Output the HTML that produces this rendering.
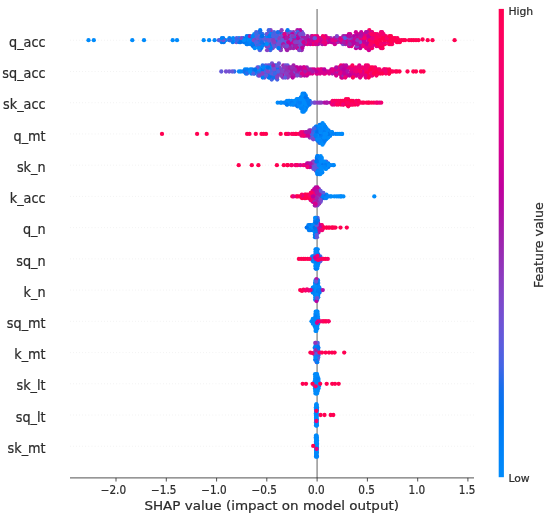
<!DOCTYPE html>
<html lang="en"><head><meta charset="utf-8"><title>SHAP summary plot</title>
<style>html,body{margin:0;padding:0;background:#fff}
svg{display:block}
text{font-family:"DejaVu Sans","Liberation Sans",sans-serif;fill:#2b2b2b;stroke:#2b2b2b;stroke-width:0.22px}
.c0{fill:#008bfb}
.c1{fill:#0088fa}
.c2{fill:#0086fa}
.c3{fill:#0084f9}
.c4{fill:#0082f8}
.c5{fill:#007ff7}
.c6{fill:#007df6}
.c7{fill:#007bf4}
.c8{fill:#0078f3}
.c9{fill:#0076f1}
.c10{fill:#0073f0}
.c11{fill:#0071ee}
.c12{fill:#166eec}
.c13{fill:#2b6bea}
.c14{fill:#3968e7}
.c15{fill:#4465e5}
.c16{fill:#4d62e3}
.c17{fill:#555fe0}
.c18{fill:#5d5cdd}
.c19{fill:#6459da}
.c20{fill:#6a56d7}
.c21{fill:#7053d4}
.c22{fill:#754fd1}
.c23{fill:#7a4bce}
.c24{fill:#7f48ca}
.c25{fill:#8344c7}
.c26{fill:#8840c3}
.c27{fill:#8c3bbf}
.c28{fill:#9037bb}
.c29{fill:#9332b7}
.c30{fill:#972db3}
.c31{fill:#9a27af}
.c32{fill:#9e22ac}
.c33{fill:#a31eaa}
.c34{fill:#a919a8}
.c35{fill:#ae14a6}
.c36{fill:#b20da4}
.c37{fill:#b704a2}
.c38{fill:#bc009f}
.c39{fill:#c0009d}
.c40{fill:#c5009a}
.c41{fill:#c90098}
.c42{fill:#cd0095}
.c43{fill:#d10092}
.c44{fill:#d40090}
.c45{fill:#d8008d}
.c46{fill:#dc008a}
.c47{fill:#df0087}
.c48{fill:#e20084}
.c49{fill:#e50081}
.c50{fill:#e8007d}
.c51{fill:#eb007a}
.c52{fill:#ee0077}
.c53{fill:#f00074}
.c54{fill:#f30070}
.c55{fill:#f5006d}
.c56{fill:#f7006a}
.c57{fill:#f90066}
.c58{fill:#fb0063}
.c59{fill:#fd005f}
.c60{fill:#ff005c}
.c61{fill:#ff0058}
.c62{fill:#ff0055}
.c63{fill:#ff0051}</style></head><body>
<svg width="550" height="518" viewBox="0 0 550 518">
<defs><linearGradient id="cb" x1="0" y1="1" x2="0" y2="0">
<stop offset="0.0000" stop-color="#008bfb"/>
<stop offset="0.0476" stop-color="#0084f9"/>
<stop offset="0.0952" stop-color="#007df6"/>
<stop offset="0.1429" stop-color="#0076f1"/>
<stop offset="0.1905" stop-color="#166eec"/>
<stop offset="0.2381" stop-color="#4465e5"/>
<stop offset="0.2857" stop-color="#5d5cdd"/>
<stop offset="0.3333" stop-color="#7053d4"/>
<stop offset="0.3810" stop-color="#7f48ca"/>
<stop offset="0.4286" stop-color="#8c3bbf"/>
<stop offset="0.4762" stop-color="#972db3"/>
<stop offset="0.5238" stop-color="#a31eaa"/>
<stop offset="0.5714" stop-color="#b20da4"/>
<stop offset="0.6190" stop-color="#c0009d"/>
<stop offset="0.6667" stop-color="#cd0095"/>
<stop offset="0.7143" stop-color="#d8008d"/>
<stop offset="0.7619" stop-color="#e20084"/>
<stop offset="0.8095" stop-color="#eb007a"/>
<stop offset="0.8571" stop-color="#f30070"/>
<stop offset="0.9048" stop-color="#f90066"/>
<stop offset="0.9524" stop-color="#ff005c"/>
<stop offset="1.0000" stop-color="#ff0051"/>
</linearGradient></defs>
<rect width="550" height="518" fill="#fff"/>
<g stroke="#d2d2d2" stroke-width="0.5" stroke-dasharray="0.55 2.55" fill="none">
<line x1="70.0" x2="474.0" y1="40.25" y2="40.25"/>
<line x1="70.0" x2="474.0" y1="71.48" y2="71.48"/>
<line x1="70.0" x2="474.0" y1="102.71" y2="102.71"/>
<line x1="70.0" x2="474.0" y1="133.94" y2="133.94"/>
<line x1="70.0" x2="474.0" y1="165.17" y2="165.17"/>
<line x1="70.0" x2="474.0" y1="196.40" y2="196.40"/>
<line x1="70.0" x2="474.0" y1="227.63" y2="227.63"/>
<line x1="70.0" x2="474.0" y1="258.86" y2="258.86"/>
<line x1="70.0" x2="474.0" y1="290.09" y2="290.09"/>
<line x1="70.0" x2="474.0" y1="321.32" y2="321.32"/>
<line x1="70.0" x2="474.0" y1="352.55" y2="352.55"/>
<line x1="70.0" x2="474.0" y1="383.78" y2="383.78"/>
<line x1="70.0" x2="474.0" y1="415.01" y2="415.01"/>
<line x1="70.0" x2="474.0" y1="446.24" y2="446.24"/>
</g>
<line x1="317.1" x2="317.1" y1="9.0" y2="477.9" stroke="#999" stroke-width="1.55"/>
<g>
<circle class="c53" cx="310.8" cy="40.2" r="2.15"/>
<circle class="c32" cx="345.1" cy="36.2" r="2.15"/>
<circle class="c55" cx="378.3" cy="46.2" r="2.15"/>
<circle class="c41" cx="311.3" cy="38.2" r="2.15"/>
<circle class="c9" cx="251.8" cy="38.2" r="2.15"/>
<circle class="c53" cx="372.0" cy="48.2" r="2.15"/>
<circle class="c10" cx="247.4" cy="44.2" r="2.15"/>
<circle class="c43" cx="305.8" cy="40.2" r="2.15"/>
<circle class="c24" cx="282.0" cy="36.2" r="2.15"/>
<circle class="c7" cx="221.8" cy="42.2" r="2.15"/>
<circle class="c27" cx="266.6" cy="46.2" r="2.15"/>
<circle class="c15" cx="248.4" cy="38.2" r="2.15"/>
<circle class="c10" cx="246.6" cy="40.2" r="2.15"/>
<circle class="c22" cx="254.6" cy="38.2" r="2.15"/>
<circle class="c7" cx="248.7" cy="36.2" r="2.15"/>
<circle class="c51" cx="323.7" cy="38.2" r="2.15"/>
<circle class="c11" cx="263.3" cy="44.2" r="2.15"/>
<circle class="c39" cx="360.2" cy="48.2" r="2.15"/>
<circle class="c54" cx="375.7" cy="44.2" r="2.15"/>
<circle class="c23" cx="280.1" cy="46.2" r="2.15"/>
<circle class="c38" cx="356.0" cy="48.2" r="2.15"/>
<circle class="c19" cx="299.1" cy="44.2" r="2.15"/>
<circle class="c45" cx="325.7" cy="36.2" r="2.15"/>
<circle class="c21" cx="236.4" cy="42.2" r="2.15"/>
<circle class="c7" cx="252.4" cy="42.2" r="2.15"/>
<circle class="c35" cx="280.2" cy="32.2" r="2.15"/>
<circle class="c31" cx="272.9" cy="44.2" r="2.15"/>
<circle class="c56" cx="384.4" cy="42.2" r="2.15"/>
<circle class="c44" cx="366.4" cy="44.2" r="2.15"/>
<circle class="c22" cx="269.9" cy="38.2" r="2.15"/>
<circle class="c55" cx="362.2" cy="40.2" r="2.15"/>
<circle class="c0" cx="232.8" cy="40.2" r="2.15"/>
<circle class="c11" cx="260.9" cy="40.2" r="2.15"/>
<circle class="c43" cx="373.5" cy="44.2" r="2.15"/>
<circle class="c57" cx="385.9" cy="36.2" r="2.15"/>
<circle class="c33" cx="300.9" cy="40.2" r="2.15"/>
<circle class="c32" cx="351.7" cy="42.2" r="2.15"/>
<circle class="c18" cx="281.2" cy="44.2" r="2.15"/>
<circle class="c28" cx="293.5" cy="32.2" r="2.15"/>
<circle class="c34" cx="286.2" cy="48.2" r="2.15"/>
<circle class="c19" cx="261.7" cy="34.2" r="2.15"/>
<circle class="c40" cx="356.7" cy="36.2" r="2.15"/>
<circle class="c54" cx="315.0" cy="36.2" r="2.15"/>
<circle class="c19" cx="277.6" cy="38.2" r="2.15"/>
<circle class="c37" cx="301.1" cy="32.2" r="2.15"/>
<circle class="c9" cx="274.1" cy="38.2" r="2.15"/>
<circle class="c53" cx="381.0" cy="32.2" r="2.15"/>
<circle class="c22" cx="343.1" cy="44.2" r="2.15"/>
<circle class="c26" cx="311.6" cy="36.2" r="2.15"/>
<circle class="c35" cx="296.2" cy="36.2" r="2.15"/>
<circle class="c9" cx="223.7" cy="42.2" r="2.15"/>
<circle class="c24" cx="290.7" cy="38.2" r="2.15"/>
<circle class="c40" cx="328.2" cy="42.2" r="2.15"/>
<circle class="c15" cx="283.2" cy="42.2" r="2.15"/>
<circle class="c40" cx="363.1" cy="36.2" r="2.15"/>
<circle class="c23" cx="308.5" cy="38.2" r="2.15"/>
<circle class="c20" cx="260.3" cy="44.2" r="2.15"/>
<circle class="c6" cx="257.8" cy="34.2" r="2.15"/>
<circle class="c53" cx="335.6" cy="38.2" r="2.15"/>
<circle class="c60" cx="389.2" cy="44.2" r="2.15"/>
<circle class="c29" cx="303.9" cy="38.2" r="2.15"/>
<circle class="c34" cx="352.3" cy="40.2" r="2.15"/>
<circle class="c47" cx="360.6" cy="40.2" r="2.15"/>
<circle class="c11" cx="262.1" cy="42.2" r="2.15"/>
<circle class="c24" cx="272.6" cy="48.2" r="2.15"/>
<circle class="c46" cx="311.5" cy="42.2" r="2.15"/>
<circle class="c43" cx="367.3" cy="48.2" r="2.15"/>
<circle class="c13" cx="266.8" cy="40.2" r="2.15"/>
<circle class="c9" cx="271.9" cy="36.2" r="2.15"/>
<circle class="c1" cx="220.6" cy="40.2" r="2.15"/>
<circle class="c63" cx="380.8" cy="36.2" r="2.15"/>
<circle class="c32" cx="296.1" cy="40.2" r="2.15"/>
<circle class="c18" cx="299.9" cy="48.2" r="2.15"/>
<circle class="c37" cx="353.9" cy="36.2" r="2.15"/>
<circle class="c17" cx="266.7" cy="34.2" r="2.15"/>
<circle class="c29" cx="301.7" cy="38.2" r="2.15"/>
<circle class="c10" cx="270.7" cy="42.2" r="2.15"/>
<circle class="c23" cx="287.7" cy="38.2" r="2.15"/>
<circle class="c43" cx="322.7" cy="40.2" r="2.15"/>
<circle class="c21" cx="259.0" cy="40.2" r="2.15"/>
<circle class="c9" cx="281.9" cy="34.2" r="2.15"/>
<circle class="c63" cx="398.7" cy="40.2" r="2.15"/>
<circle class="c51" cx="351.4" cy="46.2" r="2.15"/>
<circle class="c24" cx="344.0" cy="40.2" r="2.15"/>
<circle class="c31" cx="280.7" cy="48.2" r="2.15"/>
<circle class="c49" cx="365.4" cy="34.2" r="2.15"/>
<circle class="c34" cx="322.3" cy="44.2" r="2.15"/>
<circle class="c42" cx="313.6" cy="42.2" r="2.15"/>
<circle class="c60" cx="384.5" cy="40.2" r="2.15"/>
<circle class="c22" cx="289.8" cy="44.2" r="2.15"/>
<circle class="c0" cx="269.1" cy="48.2" r="2.15"/>
<circle class="c47" cx="372.3" cy="40.2" r="2.15"/>
<circle class="c41" cx="351.5" cy="40.2" r="2.15"/>
<circle class="c30" cx="292.4" cy="44.2" r="2.15"/>
<circle class="c32" cx="305.3" cy="38.2" r="2.15"/>
<circle class="c58" cx="369.3" cy="30.2" r="2.15"/>
<circle class="c15" cx="270.2" cy="32.2" r="2.15"/>
<circle class="c37" cx="364.8" cy="38.2" r="2.15"/>
<circle class="c63" cx="391.0" cy="36.2" r="2.15"/>
<circle class="c56" cx="378.9" cy="38.2" r="2.15"/>
<circle class="c30" cx="301.6" cy="50.2" r="2.15"/>
<circle class="c21" cx="271.2" cy="44.2" r="2.15"/>
<circle class="c25" cx="294.9" cy="34.2" r="2.15"/>
<circle class="c28" cx="330.6" cy="38.2" r="2.15"/>
<circle class="c0" cx="254.7" cy="46.2" r="2.15"/>
<circle class="c53" cx="359.3" cy="34.2" r="2.15"/>
<circle class="c41" cx="360.3" cy="44.2" r="2.15"/>
<circle class="c15" cx="274.0" cy="32.2" r="2.15"/>
<circle class="c22" cx="267.1" cy="38.2" r="2.15"/>
<circle class="c20" cx="264.6" cy="38.2" r="2.15"/>
<circle class="c43" cx="368.4" cy="42.2" r="2.15"/>
<circle class="c6" cx="277.6" cy="36.2" r="2.15"/>
<circle class="c47" cx="337.4" cy="42.2" r="2.15"/>
<circle class="c12" cx="301.4" cy="46.2" r="2.15"/>
<circle class="c37" cx="298.1" cy="36.2" r="2.15"/>
<circle class="c17" cx="289.3" cy="34.2" r="2.15"/>
<circle class="c52" cx="368.4" cy="46.2" r="2.15"/>
<circle class="c27" cx="280.8" cy="50.2" r="2.15"/>
<circle class="c56" cx="381.7" cy="38.2" r="2.15"/>
<circle class="c39" cx="352.7" cy="44.2" r="2.15"/>
<circle class="c38" cx="357.8" cy="42.2" r="2.15"/>
<circle class="c23" cx="296.6" cy="38.2" r="2.15"/>
<circle class="c60" cx="393.5" cy="40.2" r="2.15"/>
<circle class="c40" cx="308.6" cy="40.2" r="2.15"/>
<circle class="c63" cx="384.2" cy="36.2" r="2.15"/>
<circle class="c36" cx="340.9" cy="42.2" r="2.15"/>
<circle class="c38" cx="304.3" cy="44.2" r="2.15"/>
<circle class="c37" cx="353.5" cy="38.2" r="2.15"/>
<circle class="c45" cx="292.6" cy="42.2" r="2.15"/>
<circle class="c33" cx="343.3" cy="36.2" r="2.15"/>
<circle class="c22" cx="300.5" cy="36.2" r="2.15"/>
<circle class="c55" cx="375.3" cy="34.2" r="2.15"/>
<circle class="c44" cx="348.9" cy="34.2" r="2.15"/>
<circle class="c31" cx="285.4" cy="36.2" r="2.15"/>
<circle class="c27" cx="343.9" cy="38.2" r="2.15"/>
<circle class="c63" cx="372.1" cy="32.2" r="2.15"/>
<circle class="c20" cx="284.6" cy="40.2" r="2.15"/>
<circle class="c63" cx="382.6" cy="38.2" r="2.15"/>
<circle class="c40" cx="363.0" cy="42.2" r="2.15"/>
<circle class="c63" cx="405.1" cy="40.2" r="2.15"/>
<circle class="c44" cx="333.2" cy="42.2" r="2.15"/>
<circle class="c43" cx="307.5" cy="42.2" r="2.15"/>
<circle class="c17" cx="255.0" cy="44.2" r="2.15"/>
<circle class="c35" cx="297.4" cy="30.2" r="2.15"/>
<circle class="c53" cx="319.2" cy="38.2" r="2.15"/>
<circle class="c45" cx="367.7" cy="38.2" r="2.15"/>
<circle class="c41" cx="361.2" cy="32.2" r="2.15"/>
<circle class="c46" cx="329.1" cy="40.2" r="2.15"/>
<circle class="c47" cx="307.4" cy="44.2" r="2.15"/>
<circle class="c38" cx="355.2" cy="42.2" r="2.15"/>
<circle class="c18" cx="218.9" cy="40.2" r="2.15"/>
<circle class="c8" cx="246.8" cy="36.2" r="2.15"/>
<circle class="c42" cx="357.2" cy="36.2" r="2.15"/>
<circle class="c32" cx="321.4" cy="38.2" r="2.15"/>
<circle class="c43" cx="350.2" cy="34.2" r="2.15"/>
<circle class="c20" cx="302.1" cy="32.2" r="2.15"/>
<circle class="c43" cx="369.0" cy="40.2" r="2.15"/>
<circle class="c32" cx="326.7" cy="40.2" r="2.15"/>
<circle class="c45" cx="318.1" cy="42.2" r="2.15"/>
<circle class="c11" cx="269.0" cy="44.2" r="2.15"/>
<circle class="c35" cx="367.2" cy="32.2" r="2.15"/>
<circle class="c31" cx="351.3" cy="38.2" r="2.15"/>
<circle class="c20" cx="280.5" cy="42.2" r="2.15"/>
<circle class="c31" cx="293.4" cy="48.2" r="2.15"/>
<circle class="c6" cx="250.5" cy="44.2" r="2.15"/>
<circle class="c18" cx="268.9" cy="32.2" r="2.15"/>
<circle class="c61" cx="382.7" cy="44.2" r="2.15"/>
<circle class="c28" cx="336.6" cy="42.2" r="2.15"/>
<circle class="c0" cx="254.3" cy="34.2" r="2.15"/>
<circle class="c20" cx="275.3" cy="46.2" r="2.15"/>
<circle class="c37" cx="300.1" cy="30.2" r="2.15"/>
<circle class="c2" cx="252.9" cy="38.2" r="2.15"/>
<circle class="c0" cx="225.7" cy="40.2" r="2.15"/>
<circle class="c19" cx="247.4" cy="42.2" r="2.15"/>
<circle class="c38" cx="347.4" cy="36.2" r="2.15"/>
<circle class="c27" cx="270.6" cy="30.2" r="2.15"/>
<circle class="c30" cx="356.5" cy="38.2" r="2.15"/>
<circle class="c7" cx="294.1" cy="38.2" r="2.15"/>
<circle class="c36" cx="292.7" cy="46.2" r="2.15"/>
<circle class="c61" cx="382.2" cy="46.2" r="2.15"/>
<circle class="c59" cx="398.0" cy="42.2" r="2.15"/>
<circle class="c22" cx="281.2" cy="36.2" r="2.15"/>
<circle class="c27" cx="291.3" cy="46.2" r="2.15"/>
<circle class="c41" cx="357.3" cy="38.2" r="2.15"/>
<circle class="c41" cx="359.6" cy="46.2" r="2.15"/>
<circle class="c0" cx="233.1" cy="38.2" r="2.15"/>
<circle class="c63" cx="390.9" cy="44.2" r="2.15"/>
<circle class="c36" cx="337.6" cy="40.2" r="2.15"/>
<circle class="c51" cx="392.4" cy="42.2" r="2.15"/>
<circle class="c35" cx="294.0" cy="40.2" r="2.15"/>
<circle class="c33" cx="291.3" cy="34.2" r="2.15"/>
<circle class="c19" cx="283.2" cy="34.2" r="2.15"/>
<circle class="c49" cx="363.3" cy="44.2" r="2.15"/>
<circle class="c17" cx="278.0" cy="34.2" r="2.15"/>
<circle class="c30" cx="337.3" cy="38.2" r="2.15"/>
<circle class="c43" cx="354.8" cy="40.2" r="2.15"/>
<circle class="c14" cx="270.2" cy="50.2" r="2.15"/>
<circle class="c20" cx="299.1" cy="46.2" r="2.15"/>
<circle class="c42" cx="316.3" cy="40.2" r="2.15"/>
<circle class="c15" cx="268.8" cy="30.2" r="2.15"/>
<circle class="c58" cx="392.0" cy="44.2" r="2.15"/>
<circle class="c11" cx="256.9" cy="40.2" r="2.15"/>
<circle class="c60" cx="373.7" cy="42.2" r="2.15"/>
<circle class="c57" cx="379.1" cy="36.2" r="2.15"/>
<circle class="c38" cx="284.4" cy="38.2" r="2.15"/>
<circle class="c47" cx="325.1" cy="44.2" r="2.15"/>
<circle class="c53" cx="318.9" cy="40.2" r="2.15"/>
<circle class="c46" cx="320.4" cy="40.2" r="2.15"/>
<circle class="c50" cx="335.0" cy="40.2" r="2.15"/>
<circle class="c19" cx="276.1" cy="38.2" r="2.15"/>
<circle class="c29" cx="259.2" cy="32.2" r="2.15"/>
<circle class="c17" cx="280.8" cy="40.2" r="2.15"/>
<circle class="c1" cx="258.3" cy="44.2" r="2.15"/>
<circle class="c39" cx="356.5" cy="44.2" r="2.15"/>
<circle class="c23" cx="360.0" cy="42.2" r="2.15"/>
<circle class="c42" cx="348.6" cy="40.2" r="2.15"/>
<circle class="c6" cx="232.8" cy="42.2" r="2.15"/>
<circle class="c53" cx="378.9" cy="40.2" r="2.15"/>
<circle class="c22" cx="277.9" cy="40.2" r="2.15"/>
<circle class="c9" cx="269.9" cy="46.2" r="2.15"/>
<circle class="c51" cx="376.5" cy="46.2" r="2.15"/>
<circle class="c63" cx="380.6" cy="42.2" r="2.15"/>
<circle class="c36" cx="318.0" cy="44.2" r="2.15"/>
<circle class="c0" cx="239.0" cy="38.2" r="2.15"/>
<circle class="c11" cx="276.8" cy="44.2" r="2.15"/>
<circle class="c21" cx="285.3" cy="46.2" r="2.15"/>
<circle class="c33" cx="302.8" cy="46.2" r="2.15"/>
<circle class="c55" cx="324.5" cy="38.2" r="2.15"/>
<circle class="c46" cx="328.3" cy="38.2" r="2.15"/>
<circle class="c9" cx="243.2" cy="38.2" r="2.15"/>
<circle class="c2" cx="266.6" cy="36.2" r="2.15"/>
<circle class="c63" cx="370.1" cy="40.2" r="2.15"/>
<circle class="c63" cx="382.5" cy="48.2" r="2.15"/>
<circle class="c16" cx="263.3" cy="40.2" r="2.15"/>
<circle class="c32" cx="345.6" cy="44.2" r="2.15"/>
<circle class="c46" cx="345.2" cy="40.2" r="2.15"/>
<circle class="c30" cx="286.7" cy="44.2" r="2.15"/>
<circle class="c41" cx="321.8" cy="42.2" r="2.15"/>
<circle class="c63" cx="370.6" cy="48.2" r="2.15"/>
<circle class="c43" cx="289.9" cy="42.2" r="2.15"/>
<circle class="c16" cx="259.9" cy="50.2" r="2.15"/>
<circle class="c33" cx="307.5" cy="36.2" r="2.15"/>
<circle class="c0" cx="256.7" cy="34.2" r="2.15"/>
<circle class="c15" cx="229.6" cy="40.2" r="2.15"/>
<circle class="c39" cx="302.1" cy="48.2" r="2.15"/>
<circle class="c22" cx="257.7" cy="38.2" r="2.15"/>
<circle class="c14" cx="267.0" cy="42.2" r="2.15"/>
<circle class="c18" cx="290.6" cy="32.2" r="2.15"/>
<circle class="c40" cx="289.2" cy="36.2" r="2.15"/>
<circle class="c19" cx="298.8" cy="40.2" r="2.15"/>
<circle class="c35" cx="283.2" cy="44.2" r="2.15"/>
<circle class="c15" cx="276.8" cy="36.2" r="2.15"/>
<circle class="c52" cx="382.1" cy="32.2" r="2.15"/>
<circle class="c37" cx="368.9" cy="44.2" r="2.15"/>
<circle class="c18" cx="286.9" cy="42.2" r="2.15"/>
<circle class="c20" cx="289.8" cy="40.2" r="2.15"/>
<circle class="c59" cx="384.9" cy="44.2" r="2.15"/>
<circle class="c11" cx="253.1" cy="46.2" r="2.15"/>
<circle class="c59" cx="372.7" cy="36.2" r="2.15"/>
<circle class="c34" cx="302.7" cy="36.2" r="2.15"/>
<circle class="c25" cx="300.5" cy="44.2" r="2.15"/>
<circle class="c39" cx="331.5" cy="42.2" r="2.15"/>
<circle class="c7" cx="223.2" cy="38.2" r="2.15"/>
<circle class="c44" cx="340.0" cy="38.2" r="2.15"/>
<circle class="c26" cx="267.1" cy="50.2" r="2.15"/>
<circle class="c26" cx="349.4" cy="38.2" r="2.15"/>
<circle class="c18" cx="275.6" cy="34.2" r="2.15"/>
<circle class="c40" cx="366.5" cy="46.2" r="2.15"/>
<circle class="c13" cx="262.5" cy="34.2" r="2.15"/>
<circle class="c18" cx="259.1" cy="36.2" r="2.15"/>
<circle class="c63" cx="375.2" cy="36.2" r="2.15"/>
<circle class="c12" cx="261.4" cy="42.2" r="2.15"/>
<circle class="c15" cx="267.8" cy="42.2" r="2.15"/>
<circle class="c51" cx="384.8" cy="42.2" r="2.15"/>
<circle class="c43" cx="297.2" cy="48.2" r="2.15"/>
<circle class="c42" cx="313.9" cy="40.2" r="2.15"/>
<circle class="c49" cx="366.3" cy="48.2" r="2.15"/>
<circle class="c54" cx="388.6" cy="42.2" r="2.15"/>
<circle class="c49" cx="369.1" cy="34.2" r="2.15"/>
<circle class="c21" cx="267.3" cy="34.2" r="2.15"/>
<circle class="c49" cx="286.8" cy="32.2" r="2.15"/>
<circle class="c54" cx="377.1" cy="34.2" r="2.15"/>
<circle class="c4" cx="246.9" cy="38.2" r="2.15"/>
<circle class="c55" cx="381.1" cy="48.2" r="2.15"/>
<circle class="c37" cx="353.9" cy="42.2" r="2.15"/>
<circle class="c34" cx="296.1" cy="44.2" r="2.15"/>
<circle class="c0" cx="236.5" cy="40.2" r="2.15"/>
<circle class="c39" cx="292.2" cy="34.2" r="2.15"/>
<circle class="c54" cx="349.0" cy="44.2" r="2.15"/>
<circle class="c63" cx="376.3" cy="40.2" r="2.15"/>
<circle class="c37" cx="356.7" cy="34.2" r="2.15"/>
<circle class="c40" cx="369.6" cy="36.2" r="2.15"/>
<circle class="c15" cx="297.6" cy="32.2" r="2.15"/>
<circle class="c33" cx="295.5" cy="46.2" r="2.15"/>
<circle class="c61" cx="397.4" cy="38.2" r="2.15"/>
<circle class="c48" cx="317.2" cy="36.2" r="2.15"/>
<circle class="c16" cx="275.2" cy="40.2" r="2.15"/>
<circle class="c58" cx="374.5" cy="34.2" r="2.15"/>
<circle class="c57" cx="322.9" cy="36.2" r="2.15"/>
<circle class="c19" cx="273.8" cy="46.2" r="2.15"/>
<circle class="c45" cx="362.5" cy="34.2" r="2.15"/>
<circle class="c34" cx="348.3" cy="42.2" r="2.15"/>
<circle class="c48" cx="312.4" cy="36.2" r="2.15"/>
<circle class="c40" cx="330.1" cy="40.2" r="2.15"/>
<circle class="c21" cx="223.4" cy="40.2" r="2.15"/>
<circle class="c20" cx="269.3" cy="40.2" r="2.15"/>
<circle class="c48" cx="359.9" cy="38.2" r="2.15"/>
<circle class="c21" cx="287.6" cy="40.2" r="2.15"/>
<circle class="c36" cx="366.0" cy="32.2" r="2.15"/>
<circle class="c26" cx="281.6" cy="30.2" r="2.15"/>
<circle class="c35" cx="312.1" cy="38.2" r="2.15"/>
<circle class="c3" cx="251.0" cy="40.2" r="2.15"/>
<circle class="c63" cx="389.7" cy="38.2" r="2.15"/>
<circle class="c14" cx="257.4" cy="42.2" r="2.15"/>
<circle class="c34" cx="286.8" cy="38.2" r="2.15"/>
<circle class="c10" cx="261.1" cy="48.2" r="2.15"/>
<circle class="c20" cx="301.5" cy="42.2" r="2.15"/>
<circle class="c37" cx="289.2" cy="44.2" r="2.15"/>
<circle class="c48" cx="369.8" cy="46.2" r="2.15"/>
<circle class="c56" cx="313.0" cy="44.2" r="2.15"/>
<circle class="c2" cx="270.8" cy="34.2" r="2.15"/>
<circle class="c63" cx="379.7" cy="40.2" r="2.15"/>
<circle class="c14" cx="260.9" cy="38.2" r="2.15"/>
<circle class="c60" cx="371.3" cy="42.2" r="2.15"/>
<circle class="c33" cx="299.0" cy="34.2" r="2.15"/>
<circle class="c51" cx="325.2" cy="42.2" r="2.15"/>
<circle class="c6" cx="246.5" cy="42.2" r="2.15"/>
<circle class="c6" cx="270.7" cy="48.2" r="2.15"/>
<circle class="c3" cx="229.4" cy="38.2" r="2.15"/>
<circle class="c6" cx="262.0" cy="36.2" r="2.15"/>
<circle class="c38" cx="364.5" cy="40.2" r="2.15"/>
<circle class="c9" cx="243.9" cy="42.2" r="2.15"/>
<circle class="c43" cx="368.9" cy="50.2" r="2.15"/>
<circle class="c16" cx="255.3" cy="36.2" r="2.15"/>
<circle class="c52" cx="374.1" cy="38.2" r="2.15"/>
<circle class="c51" cx="316.2" cy="42.2" r="2.15"/>
<circle class="c50" cx="371.9" cy="38.2" r="2.15"/>
<circle class="c63" cx="384.6" cy="40.2" r="2.15"/>
<circle class="c63" cx="401.2" cy="40.2" r="2.15"/>
<circle class="c17" cx="236.7" cy="38.2" r="2.15"/>
<circle class="c0" cx="249.1" cy="40.2" r="2.15"/>
<circle class="c63" cx="391.6" cy="40.2" r="2.15"/>
<circle class="c37" cx="358.9" cy="46.2" r="2.15"/>
<circle class="c48" cx="365.5" cy="36.2" r="2.15"/>
<circle class="c63" cx="387.9" cy="38.2" r="2.15"/>
<circle class="c24" cx="260.4" cy="46.2" r="2.15"/>
<circle class="c26" cx="295.1" cy="42.2" r="2.15"/>
<circle class="c34" cx="334.4" cy="38.2" r="2.15"/>
<circle class="c4" cx="239.9" cy="40.2" r="2.15"/>
<circle class="c47" cx="332.7" cy="40.2" r="2.15"/>
<circle class="c26" cx="302.0" cy="40.2" r="2.15"/>
<circle class="c25" cx="268.2" cy="46.2" r="2.15"/>
<circle class="c26" cx="288.1" cy="48.2" r="2.15"/>
<circle class="c41" cx="349.2" cy="46.2" r="2.15"/>
<circle class="c35" cx="360.4" cy="36.2" r="2.15"/>
<circle class="c7" cx="239.2" cy="42.2" r="2.15"/>
<circle class="c63" cx="388.4" cy="40.2" r="2.15"/>
<circle class="c15" cx="273.4" cy="34.2" r="2.15"/>
<circle class="c14" cx="258.1" cy="46.2" r="2.15"/>
<circle class="c63" cx="380.4" cy="46.2" r="2.15"/>
<circle class="c43" cx="355.9" cy="32.2" r="2.15"/>
<circle class="c63" cx="391.2" cy="42.2" r="2.15"/>
<circle class="c46" cx="371.5" cy="32.2" r="2.15"/>
<circle class="c57" cx="364.4" cy="38.2" r="2.15"/>
<circle class="c30" cx="304.8" cy="42.2" r="2.15"/>
<circle class="c22" cx="300.3" cy="34.2" r="2.15"/>
<circle class="c33" cx="287.1" cy="50.2" r="2.15"/>
<circle class="c60" cx="377.3" cy="42.2" r="2.15"/>
<circle class="c25" cx="356.9" cy="46.2" r="2.15"/>
<circle class="c57" cx="381.0" cy="34.2" r="2.15"/>
<circle class="c40" cx="368.7" cy="36.2" r="2.15"/>
<circle class="c0" cx="258.9" cy="48.2" r="2.15"/>
<circle class="c6" cx="275.9" cy="42.2" r="2.15"/>
<circle class="c14" cx="237.1" cy="40.2" r="2.15"/>
<circle class="c55" cx="387.0" cy="38.2" r="2.15"/>
<circle class="c18" cx="263.8" cy="38.2" r="2.15"/>
<circle class="c4" cx="221.9" cy="38.2" r="2.15"/>
<circle class="c54" cx="383.5" cy="34.2" r="2.15"/>
<circle class="c4" cx="262.1" cy="46.2" r="2.15"/>
<circle class="c26" cx="279.7" cy="38.2" r="2.15"/>
<circle class="c58" cx="395.1" cy="38.2" r="2.15"/>
<circle class="c41" cx="310.3" cy="44.2" r="2.15"/>
<circle class="c21" cx="271.6" cy="40.2" r="2.15"/>
<circle class="c3" cx="249.8" cy="42.2" r="2.15"/>
<circle class="c9" cx="252.5" cy="44.2" r="2.15"/>
<circle class="c35" cx="357.4" cy="44.2" r="2.15"/>
<circle class="c26" cx="284.2" cy="46.2" r="2.15"/>
<circle class="c6" cx="246.7" cy="44.2" r="2.15"/>
<circle class="c63" cx="377.4" cy="44.2" r="2.15"/>
<circle class="c50" cx="323.6" cy="42.2" r="2.15"/>
<circle class="c63" cx="395.1" cy="40.2" r="2.15"/>
<circle class="c50" cx="372.2" cy="46.2" r="2.15"/>
<circle class="c24" cx="299.2" cy="50.2" r="2.15"/>
<circle class="c18" cx="279.3" cy="42.2" r="2.15"/>
<circle class="c57" cx="370.6" cy="44.2" r="2.15"/>
<circle class="c18" cx="282.4" cy="40.2" r="2.15"/>
<circle class="c18" cx="278.4" cy="46.2" r="2.15"/>
<circle class="c33" cx="250.0" cy="36.2" r="2.15"/>
<circle class="c62" cx="399.8" cy="42.2" r="2.15"/>
<circle class="c17" cx="344.9" cy="38.2" r="2.15"/>
<circle class="c0" cx="266.7" cy="44.2" r="2.15"/>
<circle class="c8" cx="260.2" cy="30.2" r="2.15"/>
<circle class="c19" cx="314.8" cy="38.2" r="2.15"/>
<circle class="c25" cx="253.8" cy="40.2" r="2.15"/>
<circle class="c16" cx="256.0" cy="42.2" r="2.15"/>
<circle class="c42" cx="334.8" cy="44.2" r="2.15"/>
<circle class="c36" cx="361.1" cy="34.2" r="2.15"/>
<circle class="c11" cx="262.1" cy="36.2" r="2.15"/>
<circle class="c25" cx="241.5" cy="38.2" r="2.15"/>
<circle class="c20" cx="277.9" cy="44.2" r="2.15"/>
<circle class="c25" cx="297.2" cy="42.2" r="2.15"/>
<circle class="c63" cx="376.2" cy="42.2" r="2.15"/>
<circle class="c7" cx="269.4" cy="36.2" r="2.15"/>
<circle class="c12" cx="260.3" cy="32.2" r="2.15"/>
<circle class="c43" cx="303.6" cy="42.2" r="2.15"/>
<circle class="c40" cx="288.3" cy="42.2" r="2.15"/>
<circle class="c22" cx="287.2" cy="46.2" r="2.15"/>
<circle class="c36" cx="349.6" cy="36.2" r="2.15"/>
<circle class="c28" cx="357.4" cy="40.2" r="2.15"/>
<circle class="c51" cx="363.4" cy="46.2" r="2.15"/>
<circle class="c12" cx="277.9" cy="32.2" r="2.15"/>
<circle class="c24" cx="287.0" cy="32.2" r="2.15"/>
<circle class="c45" cx="315.6" cy="44.2" r="2.15"/>
<circle class="c15" cx="256.2" cy="32.2" r="2.15"/>
<circle class="c63" cx="396.9" cy="42.2" r="2.15"/>
<circle class="c11" cx="240.4" cy="42.2" r="2.15"/>
<circle class="c63" cx="389.5" cy="36.2" r="2.15"/>
<circle class="c59" cx="376.4" cy="38.2" r="2.15"/>
<circle class="c0" cx="254.8" cy="48.2" r="2.15"/>
<circle class="c58" cx="371.5" cy="34.2" r="2.15"/>
<circle class="c27" cx="273.2" cy="40.2" r="2.15"/>
<circle class="c42" cx="345.5" cy="42.2" r="2.15"/>
<circle class="c63" cx="403.3" cy="40.2" r="2.15"/>
<circle class="c20" cx="291.5" cy="36.2" r="2.15"/>
<circle class="c37" cx="297.9" cy="38.2" r="2.15"/>
<circle class="c40" cx="364.8" cy="42.2" r="2.15"/>
<circle class="c27" cx="274.4" cy="42.2" r="2.15"/>
<circle class="c7" cx="278.6" cy="48.2" r="2.15"/>
<circle class="c27" cx="292.9" cy="36.2" r="2.15"/>
<circle class="c13" cx="229.3" cy="40.2" r="2.15"/>
<circle class="c48" cx="341.5" cy="40.2" r="2.15"/>
<circle class="c31" cx="349.7" cy="44.2" r="2.15"/>
<circle class="c22" cx="303.3" cy="34.2" r="2.15"/>
<circle class="c0" cx="244.1" cy="40.2" r="2.15"/>
<circle class="c55" cx="381.0" cy="44.2" r="2.15"/>
<circle class="c4" cx="252.6" cy="36.2" r="2.15"/>
<circle class="c6" cx="287.6" cy="30.2" r="2.15"/>
<circle class="c32" cx="290.3" cy="48.2" r="2.15"/>
<circle class="c24" cx="336.9" cy="36.2" r="2.15"/>
<circle class="c34" cx="343.8" cy="42.2" r="2.15"/>
<circle class="c47" cx="284.5" cy="34.2" r="2.15"/>
<circle class="c63" cx="393.9" cy="38.2" r="2.15"/>
<circle class="c16" cx="273.1" cy="36.2" r="2.15"/>
<circle class="c0" cx="203.7" cy="40.2" r="2.15"/>
<circle class="c0" cx="209.1" cy="40.2" r="2.15"/>
<circle class="c1" cx="214.6" cy="40.2" r="2.15"/>
<circle class="c0" cx="88.5" cy="40.2" r="2.15"/>
<circle class="c0" cx="93.8" cy="40.2" r="2.15"/>
<circle class="c0" cx="132.3" cy="40.2" r="2.15"/>
<circle class="c0" cx="144.0" cy="40.2" r="2.15"/>
<circle class="c0" cx="172.7" cy="40.2" r="2.15"/>
<circle class="c0" cx="177.0" cy="40.2" r="2.15"/>
<circle class="c63" cx="409.0" cy="40.2" r="2.15"/>
<circle class="c63" cx="411.3" cy="40.2" r="2.15"/>
<circle class="c63" cx="413.6" cy="40.2" r="2.15"/>
<circle class="c63" cx="416.0" cy="40.2" r="2.15"/>
<circle class="c63" cx="418.5" cy="40.2" r="2.15"/>
<circle class="c63" cx="422.6" cy="39.5" r="2.15"/>
<circle class="c63" cx="427.7" cy="40.2" r="2.15"/>
<circle class="c63" cx="432.5" cy="40.2" r="2.15"/>
<circle class="c63" cx="454.6" cy="40.2" r="2.15"/>
</g>
<g>
<circle class="c44" cx="309.2" cy="71.5" r="2.15"/>
<circle class="c47" cx="341.4" cy="77.5" r="2.15"/>
<circle class="c44" cx="303.8" cy="67.5" r="2.15"/>
<circle class="c36" cx="304.5" cy="75.5" r="2.15"/>
<circle class="c52" cx="362.3" cy="67.5" r="2.15"/>
<circle class="c36" cx="285.1" cy="71.5" r="2.15"/>
<circle class="c36" cx="342.5" cy="73.5" r="2.15"/>
<circle class="c61" cx="364.8" cy="73.5" r="2.15"/>
<circle class="c40" cx="314.2" cy="69.5" r="2.15"/>
<circle class="c51" cx="363.5" cy="73.5" r="2.15"/>
<circle class="c33" cx="306.8" cy="67.5" r="2.15"/>
<circle class="c63" cx="391.0" cy="71.5" r="2.15"/>
<circle class="c9" cx="270.2" cy="65.5" r="2.15"/>
<circle class="c54" cx="341.0" cy="65.5" r="2.15"/>
<circle class="c24" cx="286.0" cy="69.5" r="2.15"/>
<circle class="c21" cx="263.0" cy="75.5" r="2.15"/>
<circle class="c19" cx="265.8" cy="65.5" r="2.15"/>
<circle class="c34" cx="340.8" cy="69.5" r="2.15"/>
<circle class="c60" cx="380.9" cy="71.5" r="2.15"/>
<circle class="c42" cx="292.8" cy="71.5" r="2.15"/>
<circle class="c47" cx="312.3" cy="73.5" r="2.15"/>
<circle class="c53" cx="360.8" cy="73.5" r="2.15"/>
<circle class="c40" cx="357.1" cy="73.5" r="2.15"/>
<circle class="c21" cx="268.3" cy="65.5" r="2.15"/>
<circle class="c28" cx="307.8" cy="69.5" r="2.15"/>
<circle class="c30" cx="287.3" cy="69.5" r="2.15"/>
<circle class="c31" cx="287.8" cy="73.5" r="2.15"/>
<circle class="c36" cx="298.2" cy="73.5" r="2.15"/>
<circle class="c48" cx="322.0" cy="71.5" r="2.15"/>
<circle class="c40" cx="303.5" cy="71.5" r="2.15"/>
<circle class="c52" cx="378.0" cy="69.5" r="2.15"/>
<circle class="c20" cx="265.9" cy="69.5" r="2.15"/>
<circle class="c22" cx="280.4" cy="73.5" r="2.15"/>
<circle class="c43" cx="352.2" cy="67.5" r="2.15"/>
<circle class="c40" cx="306.9" cy="75.5" r="2.15"/>
<circle class="c32" cx="344.8" cy="71.5" r="2.15"/>
<circle class="c59" cx="374.3" cy="71.5" r="2.15"/>
<circle class="c48" cx="318.6" cy="71.5" r="2.15"/>
<circle class="c42" cx="307.6" cy="73.5" r="2.15"/>
<circle class="c22" cx="266.7" cy="73.5" r="2.15"/>
<circle class="c55" cx="395.6" cy="71.5" r="2.15"/>
<circle class="c61" cx="389.2" cy="69.5" r="2.15"/>
<circle class="c56" cx="367.1" cy="67.5" r="2.15"/>
<circle class="c0" cx="271.0" cy="67.5" r="2.15"/>
<circle class="c44" cx="303.1" cy="69.5" r="2.15"/>
<circle class="c63" cx="378.2" cy="73.5" r="2.15"/>
<circle class="c34" cx="332.4" cy="73.5" r="2.15"/>
<circle class="c57" cx="325.1" cy="73.5" r="2.15"/>
<circle class="c39" cx="341.4" cy="75.5" r="2.15"/>
<circle class="c10" cx="275.3" cy="77.5" r="2.15"/>
<circle class="c22" cx="272.0" cy="63.5" r="2.15"/>
<circle class="c46" cx="359.3" cy="65.5" r="2.15"/>
<circle class="c14" cx="273.7" cy="75.5" r="2.15"/>
<circle class="c16" cx="281.5" cy="69.5" r="2.15"/>
<circle class="c44" cx="301.5" cy="75.5" r="2.15"/>
<circle class="c5" cx="257.4" cy="71.5" r="2.15"/>
<circle class="c26" cx="294.3" cy="73.5" r="2.15"/>
<circle class="c48" cx="360.1" cy="77.5" r="2.15"/>
<circle class="c32" cx="346.8" cy="73.5" r="2.15"/>
<circle class="c63" cx="389.0" cy="73.5" r="2.15"/>
<circle class="c33" cx="293.5" cy="65.5" r="2.15"/>
<circle class="c0" cx="251.8" cy="71.5" r="2.15"/>
<circle class="c60" cx="356.5" cy="71.5" r="2.15"/>
<circle class="c36" cx="306.8" cy="71.5" r="2.15"/>
<circle class="c26" cx="289.5" cy="71.5" r="2.15"/>
<circle class="c61" cx="372.6" cy="69.5" r="2.15"/>
<circle class="c32" cx="283.3" cy="65.5" r="2.15"/>
<circle class="c14" cx="260.7" cy="71.5" r="2.15"/>
<circle class="c63" cx="397.0" cy="71.5" r="2.15"/>
<circle class="c36" cx="338.9" cy="71.5" r="2.15"/>
<circle class="c58" cx="353.9" cy="73.5" r="2.15"/>
<circle class="c40" cx="344.1" cy="75.5" r="2.15"/>
<circle class="c14" cx="272.6" cy="69.5" r="2.15"/>
<circle class="c7" cx="254.5" cy="73.5" r="2.15"/>
<circle class="c47" cx="306.0" cy="73.5" r="2.15"/>
<circle class="c28" cx="287.7" cy="77.5" r="2.15"/>
<circle class="c50" cx="365.9" cy="77.5" r="2.15"/>
<circle class="c63" cx="386.6" cy="69.5" r="2.15"/>
<circle class="c2" cx="266.4" cy="67.5" r="2.15"/>
<circle class="c20" cx="278.9" cy="63.5" r="2.15"/>
<circle class="c16" cx="245.2" cy="71.5" r="2.15"/>
<circle class="c1" cx="245.0" cy="69.5" r="2.15"/>
<circle class="c46" cx="329.1" cy="73.5" r="2.15"/>
<circle class="c36" cx="300.2" cy="69.5" r="2.15"/>
<circle class="c34" cx="296.3" cy="67.5" r="2.15"/>
<circle class="c0" cx="260.3" cy="73.5" r="2.15"/>
<circle class="c52" cx="338.8" cy="67.5" r="2.15"/>
<circle class="c63" cx="388.1" cy="71.5" r="2.15"/>
<circle class="c61" cx="384.0" cy="69.5" r="2.15"/>
<circle class="c61" cx="392.8" cy="71.5" r="2.15"/>
<circle class="c29" cx="300.2" cy="75.5" r="2.15"/>
<circle class="c44" cx="343.1" cy="67.5" r="2.15"/>
<circle class="c28" cx="282.3" cy="73.5" r="2.15"/>
<circle class="c45" cx="335.4" cy="73.5" r="2.15"/>
<circle class="c38" cx="351.0" cy="73.5" r="2.15"/>
<circle class="c32" cx="290.7" cy="75.5" r="2.15"/>
<circle class="c43" cx="339.8" cy="71.5" r="2.15"/>
<circle class="c45" cx="312.1" cy="69.5" r="2.15"/>
<circle class="c40" cx="355.9" cy="73.5" r="2.15"/>
<circle class="c14" cx="271.4" cy="75.5" r="2.15"/>
<circle class="c15" cx="277.2" cy="79.5" r="2.15"/>
<circle class="c44" cx="309.8" cy="73.5" r="2.15"/>
<circle class="c12" cx="275.3" cy="65.5" r="2.15"/>
<circle class="c16" cx="258.2" cy="75.5" r="2.15"/>
<circle class="c44" cx="342.6" cy="71.5" r="2.15"/>
<circle class="c20" cx="275.4" cy="67.5" r="2.15"/>
<circle class="c56" cx="352.1" cy="69.5" r="2.15"/>
<circle class="c24" cx="278.9" cy="73.5" r="2.15"/>
<circle class="c63" cx="380.3" cy="73.5" r="2.15"/>
<circle class="c35" cx="334.6" cy="71.5" r="2.15"/>
<circle class="c14" cx="260.9" cy="69.5" r="2.15"/>
<circle class="c55" cx="375.1" cy="67.5" r="2.15"/>
<circle class="c30" cx="263.9" cy="71.5" r="2.15"/>
<circle class="c63" cx="389.1" cy="73.5" r="2.15"/>
<circle class="c50" cx="352.1" cy="71.5" r="2.15"/>
<circle class="c33" cx="290.2" cy="67.5" r="2.15"/>
<circle class="c13" cx="266.3" cy="73.5" r="2.15"/>
<circle class="c44" cx="304.0" cy="67.5" r="2.15"/>
<circle class="c46" cx="320.1" cy="73.5" r="2.15"/>
<circle class="c34" cx="293.7" cy="73.5" r="2.15"/>
<circle class="c50" cx="370.9" cy="75.5" r="2.15"/>
<circle class="c59" cx="375.7" cy="69.5" r="2.15"/>
<circle class="c12" cx="252.1" cy="69.5" r="2.15"/>
<circle class="c30" cx="300.6" cy="73.5" r="2.15"/>
<circle class="c32" cx="338.1" cy="73.5" r="2.15"/>
<circle class="c16" cx="264.4" cy="71.5" r="2.15"/>
<circle class="c43" cx="324.9" cy="71.5" r="2.15"/>
<circle class="c16" cx="270.4" cy="73.5" r="2.15"/>
<circle class="c18" cx="276.5" cy="67.5" r="2.15"/>
<circle class="c44" cx="336.2" cy="75.5" r="2.15"/>
<circle class="c41" cx="345.6" cy="69.5" r="2.15"/>
<circle class="c23" cx="264.6" cy="77.5" r="2.15"/>
<circle class="c51" cx="372.3" cy="75.5" r="2.15"/>
<circle class="c37" cx="331.4" cy="69.5" r="2.15"/>
<circle class="c58" cx="358.1" cy="69.5" r="2.15"/>
<circle class="c0" cx="259.0" cy="67.5" r="2.15"/>
<circle class="c45" cx="305.6" cy="69.5" r="2.15"/>
<circle class="c38" cx="334.7" cy="69.5" r="2.15"/>
<circle class="c12" cx="267.7" cy="75.5" r="2.15"/>
<circle class="c47" cx="355.8" cy="75.5" r="2.15"/>
<circle class="c12" cx="246.5" cy="71.5" r="2.15"/>
<circle class="c63" cx="375.3" cy="73.5" r="2.15"/>
<circle class="c52" cx="317.9" cy="69.5" r="2.15"/>
<circle class="c45" cx="317.7" cy="73.5" r="2.15"/>
<circle class="c63" cx="370.8" cy="67.5" r="2.15"/>
<circle class="c4" cx="251.3" cy="73.5" r="2.15"/>
<circle class="c39" cx="297.0" cy="67.5" r="2.15"/>
<circle class="c5" cx="247.1" cy="69.5" r="2.15"/>
<circle class="c9" cx="262.3" cy="69.5" r="2.15"/>
<circle class="c45" cx="332.7" cy="71.5" r="2.15"/>
<circle class="c19" cx="287.6" cy="65.5" r="2.15"/>
<circle class="c34" cx="347.3" cy="69.5" r="2.15"/>
<circle class="c21" cx="273.4" cy="71.5" r="2.15"/>
<circle class="c42" cx="327.0" cy="71.5" r="2.15"/>
<circle class="c0" cx="258.8" cy="69.5" r="2.15"/>
<circle class="c23" cx="279.4" cy="67.5" r="2.15"/>
<circle class="c42" cx="343.6" cy="65.5" r="2.15"/>
<circle class="c42" cx="352.6" cy="75.5" r="2.15"/>
<circle class="c44" cx="320.3" cy="71.5" r="2.15"/>
<circle class="c57" cx="367.9" cy="75.5" r="2.15"/>
<circle class="c62" cx="372.6" cy="67.5" r="2.15"/>
<circle class="c5" cx="271.2" cy="69.5" r="2.15"/>
<circle class="c5" cx="262.7" cy="77.5" r="2.15"/>
<circle class="c10" cx="270.0" cy="77.5" r="2.15"/>
<circle class="c15" cx="271.4" cy="71.5" r="2.15"/>
<circle class="c18" cx="274.5" cy="75.5" r="2.15"/>
<circle class="c48" cx="360.8" cy="75.5" r="2.15"/>
<circle class="c12" cx="274.9" cy="71.5" r="2.15"/>
<circle class="c52" cx="368.8" cy="69.5" r="2.15"/>
<circle class="c29" cx="299.2" cy="71.5" r="2.15"/>
<circle class="c33" cx="310.0" cy="69.5" r="2.15"/>
<circle class="c49" cx="347.3" cy="67.5" r="2.15"/>
<circle class="c15" cx="271.7" cy="79.5" r="2.15"/>
<circle class="c46" cx="336.8" cy="69.5" r="2.15"/>
<circle class="c13" cx="258.3" cy="73.5" r="2.15"/>
<circle class="c54" cx="354.8" cy="69.5" r="2.15"/>
<circle class="c44" cx="356.9" cy="75.5" r="2.15"/>
<circle class="c35" cx="346.1" cy="65.5" r="2.15"/>
<circle class="c26" cx="279.4" cy="69.5" r="2.15"/>
<circle class="c63" cx="368.7" cy="77.5" r="2.15"/>
<circle class="c48" cx="322.0" cy="69.5" r="2.15"/>
<circle class="c47" cx="320.6" cy="69.5" r="2.15"/>
<circle class="c41" cx="347.1" cy="75.5" r="2.15"/>
<circle class="c0" cx="245.8" cy="73.5" r="2.15"/>
<circle class="c12" cx="277.5" cy="69.5" r="2.15"/>
<circle class="c52" cx="384.7" cy="69.5" r="2.15"/>
<circle class="c18" cx="273.1" cy="67.5" r="2.15"/>
<circle class="c24" cx="283.0" cy="77.5" r="2.15"/>
<circle class="c33" cx="288.9" cy="67.5" r="2.15"/>
<circle class="c59" cx="376.4" cy="75.5" r="2.15"/>
<circle class="c39" cx="281.9" cy="75.5" r="2.15"/>
<circle class="c43" cx="342.5" cy="77.5" r="2.15"/>
<circle class="c35" cx="295.0" cy="75.5" r="2.15"/>
<circle class="c26" cx="259.4" cy="75.5" r="2.15"/>
<circle class="c63" cx="368.7" cy="71.5" r="2.15"/>
<circle class="c22" cx="295.0" cy="71.5" r="2.15"/>
<circle class="c52" cx="358.7" cy="67.5" r="2.15"/>
<circle class="c53" cx="365.9" cy="71.5" r="2.15"/>
<circle class="c13" cx="262.7" cy="65.5" r="2.15"/>
<circle class="c33" cx="296.9" cy="71.5" r="2.15"/>
<circle class="c28" cx="277.3" cy="75.5" r="2.15"/>
<circle class="c23" cx="297.2" cy="75.5" r="2.15"/>
<circle class="c61" cx="352.9" cy="77.5" r="2.15"/>
<circle class="c56" cx="366.4" cy="69.5" r="2.15"/>
<circle class="c58" cx="363.6" cy="69.5" r="2.15"/>
<circle class="c31" cx="343.4" cy="75.5" r="2.15"/>
<circle class="c30" cx="291.8" cy="75.5" r="2.15"/>
<circle class="c26" cx="286.2" cy="75.5" r="2.15"/>
<circle class="c45" cx="329.2" cy="71.5" r="2.15"/>
<circle class="c52" cx="355.8" cy="67.5" r="2.15"/>
<circle class="c31" cx="273.5" cy="65.5" r="2.15"/>
<circle class="c27" cx="293.1" cy="69.5" r="2.15"/>
<circle class="c55" cx="382.5" cy="71.5" r="2.15"/>
<circle class="c50" cx="350.0" cy="67.5" r="2.15"/>
<circle class="c36" cx="336.2" cy="67.5" r="2.15"/>
<circle class="c55" cx="367.9" cy="65.5" r="2.15"/>
<circle class="c21" cx="285.5" cy="65.5" r="2.15"/>
<circle class="c54" cx="365.8" cy="65.5" r="2.15"/>
<circle class="c2" cx="263.6" cy="67.5" r="2.15"/>
<circle class="c6" cx="255.1" cy="71.5" r="2.15"/>
<circle class="c44" cx="351.1" cy="71.5" r="2.15"/>
<circle class="c18" cx="285.2" cy="77.5" r="2.15"/>
<circle class="c28" cx="288.4" cy="75.5" r="2.15"/>
<circle class="c13" cx="234.3" cy="71.5" r="2.15"/>
<circle class="c54" cx="371.0" cy="71.5" r="2.15"/>
<circle class="c63" cx="376.8" cy="71.5" r="2.15"/>
<circle class="c58" cx="385.9" cy="73.5" r="2.15"/>
<circle class="c39" cx="300.4" cy="67.5" r="2.15"/>
<circle class="c39" cx="349.5" cy="75.5" r="2.15"/>
<circle class="c12" cx="273.4" cy="77.5" r="2.15"/>
<circle class="c27" cx="279.1" cy="71.5" r="2.15"/>
<circle class="c63" cx="366.8" cy="73.5" r="2.15"/>
<circle class="c3" cx="250.3" cy="69.5" r="2.15"/>
<circle class="c33" cx="291.4" cy="69.5" r="2.15"/>
<circle class="c19" cx="273.4" cy="73.5" r="2.15"/>
<circle class="c12" cx="243.4" cy="71.5" r="2.15"/>
<circle class="c59" cx="359.2" cy="69.5" r="2.15"/>
<circle class="c59" cx="371.6" cy="71.5" r="2.15"/>
<circle class="c18" cx="277.4" cy="65.5" r="2.15"/>
<circle class="c35" cx="346.9" cy="71.5" r="2.15"/>
<circle class="c41" cx="345.1" cy="67.5" r="2.15"/>
<circle class="c9" cx="268.8" cy="77.5" r="2.15"/>
<circle class="c15" cx="266.9" cy="69.5" r="2.15"/>
<circle class="c51" cx="359.1" cy="67.5" r="2.15"/>
<circle class="c45" cx="362.1" cy="71.5" r="2.15"/>
<circle class="c20" cx="257.5" cy="67.5" r="2.15"/>
<circle class="c0" cx="239.0" cy="71.5" r="2.15"/>
<circle class="c63" cx="382.5" cy="73.5" r="2.15"/>
<circle class="c30" cx="286.1" cy="67.5" r="2.15"/>
<circle class="c53" cx="365.6" cy="67.5" r="2.15"/>
<circle class="c38" cx="324.3" cy="69.5" r="2.15"/>
<circle class="c63" cx="370.5" cy="69.5" r="2.15"/>
<circle class="c25" cx="282.4" cy="71.5" r="2.15"/>
<circle class="c47" cx="316.4" cy="73.5" r="2.15"/>
<circle class="c57" cx="379.6" cy="69.5" r="2.15"/>
<circle class="c24" cx="267.9" cy="71.5" r="2.15"/>
<circle class="c39" cx="316.3" cy="71.5" r="2.15"/>
<circle class="c53" cx="371.3" cy="73.5" r="2.15"/>
<circle class="c48" cx="340.0" cy="73.5" r="2.15"/>
<circle class="c34" cx="291.4" cy="73.5" r="2.15"/>
<circle class="c60" cx="352.4" cy="65.5" r="2.15"/>
<circle class="c13" cx="247.1" cy="73.5" r="2.15"/>
<circle class="c48" cx="332.7" cy="69.5" r="2.15"/>
<circle class="c16" cx="253.2" cy="73.5" r="2.15"/>
<circle class="c36" cx="341.2" cy="67.5" r="2.15"/>
<circle class="c52" cx="356.2" cy="71.5" r="2.15"/>
<circle class="c63" cx="373.9" cy="73.5" r="2.15"/>
<circle class="c34" cx="304.8" cy="71.5" r="2.15"/>
<circle class="c17" cx="266.2" cy="75.5" r="2.15"/>
<circle class="c25" cx="277.1" cy="77.5" r="2.15"/>
<circle class="c57" cx="360.3" cy="71.5" r="2.15"/>
<circle class="c16" cx="278.0" cy="71.5" r="2.15"/>
<circle class="c22" cx="274.2" cy="69.5" r="2.15"/>
<circle class="c38" cx="343.7" cy="69.5" r="2.15"/>
<circle class="c40" cx="298.7" cy="69.5" r="2.15"/>
<circle class="c30" cx="291.8" cy="67.5" r="2.15"/>
<circle class="c54" cx="385.6" cy="71.5" r="2.15"/>
<circle class="c0" cx="240.9" cy="71.5" r="2.15"/>
<circle class="c11" cx="255.1" cy="69.5" r="2.15"/>
<circle class="c0" cx="250.0" cy="71.5" r="2.15"/>
<circle class="c25" cx="281.0" cy="75.5" r="2.15"/>
<circle class="c10" cx="268.0" cy="67.5" r="2.15"/>
<circle class="c34" cx="312.6" cy="71.5" r="2.15"/>
<circle class="c26" cx="262.4" cy="73.5" r="2.15"/>
<circle class="c37" cx="292.7" cy="77.5" r="2.15"/>
<circle class="c14" cx="274.9" cy="73.5" r="2.15"/>
<circle class="c46" cx="302.0" cy="73.5" r="2.15"/>
<circle class="c40" cx="344.2" cy="73.5" r="2.15"/>
<circle class="c53" cx="345.3" cy="77.5" r="2.15"/>
<circle class="c49" cx="351.4" cy="69.5" r="2.15"/>
<circle class="c31" cx="294.8" cy="69.5" r="2.15"/>
<circle class="c45" cx="323.9" cy="73.5" r="2.15"/>
<circle class="c29" cx="286.8" cy="71.5" r="2.15"/>
<circle class="c26" cx="286.0" cy="73.5" r="2.15"/>
<circle class="c48" cx="361.7" cy="75.5" r="2.15"/>
<circle class="c48" cx="365.5" cy="75.5" r="2.15"/>
<circle class="c28" cx="283.8" cy="67.5" r="2.15"/>
<circle class="c19" cx="221.3" cy="71.5" r="2.15"/>
<circle class="c22" cx="226.0" cy="71.5" r="2.15"/>
<circle class="c22" cx="229.2" cy="71.5" r="2.15"/>
<circle class="c19" cx="232.2" cy="71.5" r="2.15"/>
<circle class="c63" cx="399.5" cy="71.5" r="2.15"/>
<circle class="c63" cx="407.5" cy="71.5" r="2.15"/>
<circle class="c63" cx="413.3" cy="71.5" r="2.15"/>
<circle class="c63" cx="416.0" cy="71.5" r="2.15"/>
<circle class="c63" cx="421.0" cy="71.5" r="2.15"/>
<circle class="c63" cx="423.5" cy="71.5" r="2.15"/>
</g>
<g>
<circle class="c63" cx="354.4" cy="102.7" r="2.15"/>
<circle class="c26" cx="321.3" cy="102.7" r="2.15"/>
<circle class="c63" cx="353.0" cy="100.9" r="2.15"/>
<circle class="c63" cx="345.3" cy="100.9" r="2.15"/>
<circle class="c0" cx="288.8" cy="100.9" r="2.15"/>
<circle class="c60" cx="371.5" cy="102.7" r="2.15"/>
<circle class="c0" cx="306.9" cy="99.1" r="2.15"/>
<circle class="c63" cx="340.3" cy="100.9" r="2.15"/>
<circle class="c0" cx="305.4" cy="109.9" r="2.15"/>
<circle class="c7" cx="305.4" cy="102.7" r="2.15"/>
<circle class="c0" cx="302.4" cy="111.7" r="2.15"/>
<circle class="c0" cx="300.6" cy="108.1" r="2.15"/>
<circle class="c55" cx="381.2" cy="102.7" r="2.15"/>
<circle class="c28" cx="319.7" cy="102.7" r="2.15"/>
<circle class="c0" cx="285.3" cy="102.7" r="2.15"/>
<circle class="c0" cx="288.1" cy="102.7" r="2.15"/>
<circle class="c0" cx="296.6" cy="102.7" r="2.15"/>
<circle class="c0" cx="296.2" cy="100.9" r="2.15"/>
<circle class="c7" cx="295.1" cy="104.5" r="2.15"/>
<circle class="c3" cx="289.3" cy="100.9" r="2.15"/>
<circle class="c63" cx="341.0" cy="104.5" r="2.15"/>
<circle class="c58" cx="348.3" cy="106.3" r="2.15"/>
<circle class="c63" cx="350.3" cy="104.5" r="2.15"/>
<circle class="c59" cx="334.5" cy="100.9" r="2.15"/>
<circle class="c61" cx="350.7" cy="102.7" r="2.15"/>
<circle class="c19" cx="314.1" cy="102.7" r="2.15"/>
<circle class="c63" cx="377.4" cy="102.7" r="2.15"/>
<circle class="c54" cx="332.2" cy="102.7" r="2.15"/>
<circle class="c58" cx="357.4" cy="102.7" r="2.15"/>
<circle class="c11" cx="304.6" cy="104.5" r="2.15"/>
<circle class="c60" cx="366.5" cy="102.7" r="2.15"/>
<circle class="c0" cx="302.0" cy="100.9" r="2.15"/>
<circle class="c1" cx="306.1" cy="108.1" r="2.15"/>
<circle class="c0" cx="277.7" cy="102.7" r="2.15"/>
<circle class="c12" cx="293.6" cy="104.5" r="2.15"/>
<circle class="c0" cx="290.8" cy="104.5" r="2.15"/>
<circle class="c59" cx="342.1" cy="100.9" r="2.15"/>
<circle class="c12" cx="297.6" cy="102.7" r="2.15"/>
<circle class="c63" cx="355.1" cy="104.5" r="2.15"/>
<circle class="c53" cx="333.4" cy="102.7" r="2.15"/>
<circle class="c9" cx="309.7" cy="100.9" r="2.15"/>
<circle class="c48" cx="345.3" cy="102.7" r="2.15"/>
<circle class="c4" cx="307.4" cy="99.1" r="2.15"/>
<circle class="c6" cx="297.4" cy="106.3" r="2.15"/>
<circle class="c60" cx="336.2" cy="100.9" r="2.15"/>
<circle class="c35" cx="324.5" cy="102.7" r="2.15"/>
<circle class="c62" cx="338.4" cy="104.5" r="2.15"/>
<circle class="c1" cx="287.0" cy="100.9" r="2.15"/>
<circle class="c6" cx="280.5" cy="102.7" r="2.15"/>
<circle class="c3" cx="303.2" cy="97.3" r="2.15"/>
<circle class="c63" cx="352.3" cy="102.7" r="2.15"/>
<circle class="c1" cx="298.1" cy="99.1" r="2.15"/>
<circle class="c63" cx="349.1" cy="100.9" r="2.15"/>
<circle class="c0" cx="296.8" cy="99.1" r="2.15"/>
<circle class="c3" cx="307.7" cy="100.9" r="2.15"/>
<circle class="c38" cx="326.5" cy="102.7" r="2.15"/>
<circle class="c6" cx="306.2" cy="100.9" r="2.15"/>
<circle class="c3" cx="287.5" cy="104.5" r="2.15"/>
<circle class="c40" cx="330.7" cy="102.7" r="2.15"/>
<circle class="c6" cx="303.6" cy="109.9" r="2.15"/>
<circle class="c53" cx="332.2" cy="104.5" r="2.15"/>
<circle class="c3" cx="298.8" cy="100.9" r="2.15"/>
<circle class="c57" cx="344.7" cy="102.7" r="2.15"/>
<circle class="c63" cx="353.0" cy="104.5" r="2.15"/>
<circle class="c55" cx="339.0" cy="102.7" r="2.15"/>
<circle class="c0" cx="289.7" cy="102.7" r="2.15"/>
<circle class="c1" cx="302.5" cy="109.9" r="2.15"/>
<circle class="c9" cx="306.3" cy="106.3" r="2.15"/>
<circle class="c49" cx="334.1" cy="104.5" r="2.15"/>
<circle class="c4" cx="307.1" cy="106.3" r="2.15"/>
<circle class="c63" cx="346.8" cy="104.5" r="2.15"/>
<circle class="c63" cx="343.6" cy="104.5" r="2.15"/>
<circle class="c59" cx="356.2" cy="102.7" r="2.15"/>
<circle class="c63" cx="341.0" cy="102.7" r="2.15"/>
<circle class="c63" cx="347.1" cy="104.5" r="2.15"/>
<circle class="c0" cx="303.8" cy="99.1" r="2.15"/>
<circle class="c4" cx="302.3" cy="99.1" r="2.15"/>
<circle class="c52" cx="336.5" cy="102.7" r="2.15"/>
<circle class="c0" cx="304.2" cy="102.7" r="2.15"/>
<circle class="c58" cx="332.6" cy="100.9" r="2.15"/>
<circle class="c1" cx="302.6" cy="93.7" r="2.15"/>
<circle class="c0" cx="294.6" cy="102.7" r="2.15"/>
<circle class="c63" cx="362.5" cy="102.7" r="2.15"/>
<circle class="c9" cx="304.7" cy="106.3" r="2.15"/>
<circle class="c0" cx="300.1" cy="104.5" r="2.15"/>
<circle class="c0" cx="294.5" cy="100.9" r="2.15"/>
<circle class="c24" cx="315.1" cy="102.7" r="2.15"/>
<circle class="c60" cx="360.6" cy="102.7" r="2.15"/>
<circle class="c4" cx="300.4" cy="100.9" r="2.15"/>
<circle class="c28" cx="317.7" cy="102.7" r="2.15"/>
<circle class="c63" cx="348.0" cy="100.9" r="2.15"/>
<circle class="c56" cx="356.4" cy="100.9" r="2.15"/>
<circle class="c63" cx="351.4" cy="100.9" r="2.15"/>
<circle class="c0" cx="302.4" cy="102.7" r="2.15"/>
<circle class="c2" cx="303.8" cy="111.7" r="2.15"/>
<circle class="c7" cx="286.7" cy="104.5" r="2.15"/>
<circle class="c7" cx="300.9" cy="97.3" r="2.15"/>
<circle class="c2" cx="299.7" cy="106.3" r="2.15"/>
<circle class="c0" cx="305.9" cy="104.5" r="2.15"/>
<circle class="c0" cx="307.7" cy="104.5" r="2.15"/>
<circle class="c10" cx="309.8" cy="102.7" r="2.15"/>
<circle class="c62" cx="373.9" cy="102.7" r="2.15"/>
<circle class="c0" cx="304.0" cy="108.1" r="2.15"/>
<circle class="c0" cx="301.1" cy="106.3" r="2.15"/>
<circle class="c60" cx="346.0" cy="99.1" r="2.15"/>
<circle class="c0" cx="302.7" cy="97.3" r="2.15"/>
<circle class="c0" cx="303.2" cy="100.9" r="2.15"/>
<circle class="c8" cx="309.5" cy="104.5" r="2.15"/>
<circle class="c0" cx="281.6" cy="102.7" r="2.15"/>
<circle class="c17" cx="311.0" cy="102.7" r="2.15"/>
<circle class="c58" cx="357.7" cy="104.5" r="2.15"/>
<circle class="c1" cx="304.2" cy="95.5" r="2.15"/>
<circle class="c0" cx="305.7" cy="95.5" r="2.15"/>
<circle class="c3" cx="302.0" cy="108.1" r="2.15"/>
<circle class="c60" cx="336.6" cy="104.5" r="2.15"/>
<circle class="c62" cx="343.1" cy="100.9" r="2.15"/>
<circle class="c5" cx="304.4" cy="93.7" r="2.15"/>
<circle class="c63" cx="342.5" cy="102.7" r="2.15"/>
<circle class="c53" cx="343.0" cy="104.5" r="2.15"/>
<circle class="c0" cx="302.3" cy="95.5" r="2.15"/>
<circle class="c63" cx="369.1" cy="102.7" r="2.15"/>
<circle class="c1" cx="298.8" cy="104.5" r="2.15"/>
<circle class="c58" cx="347.5" cy="102.7" r="2.15"/>
<circle class="c10" cx="305.8" cy="97.3" r="2.15"/>
<circle class="c54" cx="376.2" cy="102.7" r="2.15"/>
<circle class="c63" cx="348.1" cy="99.1" r="2.15"/>
<circle class="c62" cx="363.9" cy="102.7" r="2.15"/>
<circle class="c34" cx="327.2" cy="102.7" r="2.15"/>
<circle class="c58" cx="338.2" cy="100.9" r="2.15"/>
<circle class="c0" cx="291.7" cy="100.9" r="2.15"/>
<circle class="c61" cx="358.6" cy="100.9" r="2.15"/>
<circle class="c0" cx="301.7" cy="104.5" r="2.15"/>
<circle class="c5" cx="299.8" cy="102.7" r="2.15"/>
<circle class="c7" cx="308.6" cy="102.7" r="2.15"/>
<circle class="c63" cx="368.2" cy="102.7" r="2.15"/>
<circle class="c6" cx="291.6" cy="102.7" r="2.15"/>
<circle class="c4" cx="284.2" cy="102.7" r="2.15"/>
<circle class="c0" cx="300.1" cy="99.1" r="2.15"/>
<circle class="c51" cx="379.4" cy="102.7" r="2.15"/>
<circle class="c1" cx="292.7" cy="104.5" r="2.15"/>
<circle class="c58" cx="351.8" cy="104.5" r="2.15"/>
</g>
<g>
<circle class="c23" cx="311.8" cy="137.5" r="2.15"/>
<circle class="c18" cx="314.0" cy="133.9" r="2.15"/>
<circle class="c7" cx="316.0" cy="126.7" r="2.15"/>
<circle class="c8" cx="323.3" cy="141.1" r="2.15"/>
<circle class="c52" cx="288.6" cy="133.9" r="2.15"/>
<circle class="c33" cx="308.7" cy="133.9" r="2.15"/>
<circle class="c51" cx="287.1" cy="133.9" r="2.15"/>
<circle class="c29" cx="312.0" cy="132.1" r="2.15"/>
<circle class="c42" cx="306.7" cy="132.1" r="2.15"/>
<circle class="c44" cx="303.7" cy="133.9" r="2.15"/>
<circle class="c26" cx="311.9" cy="135.7" r="2.15"/>
<circle class="c0" cx="323.7" cy="128.5" r="2.15"/>
<circle class="c4" cx="328.9" cy="132.1" r="2.15"/>
<circle class="c0" cx="320.7" cy="124.9" r="2.15"/>
<circle class="c28" cx="309.8" cy="137.5" r="2.15"/>
<circle class="c5" cx="335.9" cy="133.9" r="2.15"/>
<circle class="c7" cx="314.7" cy="132.1" r="2.15"/>
<circle class="c0" cx="330.1" cy="135.7" r="2.15"/>
<circle class="c53" cx="293.6" cy="133.9" r="2.15"/>
<circle class="c19" cx="313.2" cy="135.7" r="2.15"/>
<circle class="c0" cx="323.5" cy="130.3" r="2.15"/>
<circle class="c12" cx="328.5" cy="130.3" r="2.15"/>
<circle class="c7" cx="318.0" cy="141.1" r="2.15"/>
<circle class="c8" cx="314.8" cy="137.5" r="2.15"/>
<circle class="c12" cx="320.7" cy="133.9" r="2.15"/>
<circle class="c12" cx="320.3" cy="139.3" r="2.15"/>
<circle class="c5" cx="316.5" cy="126.7" r="2.15"/>
<circle class="c0" cx="321.8" cy="137.5" r="2.15"/>
<circle class="c3" cx="314.8" cy="133.9" r="2.15"/>
<circle class="c18" cx="312.2" cy="137.5" r="2.15"/>
<circle class="c6" cx="323.6" cy="142.9" r="2.15"/>
<circle class="c4" cx="325.3" cy="128.5" r="2.15"/>
<circle class="c0" cx="339.9" cy="133.9" r="2.15"/>
<circle class="c63" cx="295.6" cy="133.9" r="2.15"/>
<circle class="c30" cx="310.9" cy="130.3" r="2.15"/>
<circle class="c2" cx="325.1" cy="130.3" r="2.15"/>
<circle class="c4" cx="327.1" cy="132.1" r="2.15"/>
<circle class="c2" cx="327.4" cy="137.5" r="2.15"/>
<circle class="c4" cx="329.9" cy="135.7" r="2.15"/>
<circle class="c0" cx="327.3" cy="130.3" r="2.15"/>
<circle class="c5" cx="322.7" cy="139.3" r="2.15"/>
<circle class="c16" cx="312.5" cy="132.1" r="2.15"/>
<circle class="c0" cx="326.3" cy="139.3" r="2.15"/>
<circle class="c8" cx="317.3" cy="128.5" r="2.15"/>
<circle class="c5" cx="320.2" cy="126.7" r="2.15"/>
<circle class="c0" cx="324.8" cy="135.7" r="2.15"/>
<circle class="c3" cx="326.7" cy="135.7" r="2.15"/>
<circle class="c14" cx="315.8" cy="139.3" r="2.15"/>
<circle class="c0" cx="324.1" cy="124.9" r="2.15"/>
<circle class="c0" cx="323.7" cy="137.5" r="2.15"/>
<circle class="c0" cx="321.5" cy="135.7" r="2.15"/>
<circle class="c39" cx="304.2" cy="135.7" r="2.15"/>
<circle class="c40" cx="306.2" cy="135.7" r="2.15"/>
<circle class="c14" cx="313.8" cy="130.3" r="2.15"/>
<circle class="c0" cx="322.2" cy="133.9" r="2.15"/>
<circle class="c1" cx="326.5" cy="128.5" r="2.15"/>
<circle class="c2" cx="315.7" cy="130.3" r="2.15"/>
<circle class="c5" cx="324.5" cy="139.3" r="2.15"/>
<circle class="c39" cx="306.9" cy="133.9" r="2.15"/>
<circle class="c0" cx="328.2" cy="137.5" r="2.15"/>
<circle class="c0" cx="322.6" cy="123.1" r="2.15"/>
<circle class="c0" cx="322.5" cy="144.7" r="2.15"/>
<circle class="c0" cx="319.3" cy="137.5" r="2.15"/>
<circle class="c0" cx="332.1" cy="132.1" r="2.15"/>
<circle class="c58" cx="298.9" cy="133.9" r="2.15"/>
<circle class="c12" cx="314.8" cy="128.5" r="2.15"/>
<circle class="c42" cx="308.5" cy="135.7" r="2.15"/>
<circle class="c9" cx="317.6" cy="137.5" r="2.15"/>
<circle class="c1" cx="325.1" cy="132.1" r="2.15"/>
<circle class="c6" cx="319.7" cy="124.9" r="2.15"/>
<circle class="c0" cx="320.4" cy="141.1" r="2.15"/>
<circle class="c23" cx="313.2" cy="139.3" r="2.15"/>
<circle class="c46" cx="301.2" cy="133.9" r="2.15"/>
<circle class="c12" cx="319.5" cy="142.9" r="2.15"/>
<circle class="c4" cx="317.9" cy="130.3" r="2.15"/>
<circle class="c5" cx="317.8" cy="133.9" r="2.15"/>
<circle class="c30" cx="309.3" cy="130.3" r="2.15"/>
<circle class="c52" cx="304.0" cy="133.9" r="2.15"/>
<circle class="c48" cx="303.3" cy="132.1" r="2.15"/>
<circle class="c5" cx="319.9" cy="135.7" r="2.15"/>
<circle class="c0" cx="319.4" cy="126.7" r="2.15"/>
<circle class="c0" cx="321.1" cy="142.9" r="2.15"/>
<circle class="c6" cx="323.7" cy="132.1" r="2.15"/>
<circle class="c8" cx="318.7" cy="130.3" r="2.15"/>
<circle class="c0" cx="330.5" cy="133.9" r="2.15"/>
<circle class="c0" cx="337.9" cy="133.9" r="2.15"/>
<circle class="c11" cx="319.3" cy="133.9" r="2.15"/>
<circle class="c15" cx="311.8" cy="133.9" r="2.15"/>
<circle class="c51" cx="301.5" cy="135.7" r="2.15"/>
<circle class="c9" cx="328.4" cy="133.9" r="2.15"/>
<circle class="c0" cx="320.8" cy="128.5" r="2.15"/>
<circle class="c63" cx="285.9" cy="133.9" r="2.15"/>
<circle class="c35" cx="309.1" cy="132.1" r="2.15"/>
<circle class="c6" cx="342.1" cy="133.9" r="2.15"/>
<circle class="c35" cx="305.9" cy="132.1" r="2.15"/>
<circle class="c3" cx="318.8" cy="132.1" r="2.15"/>
<circle class="c0" cx="331.3" cy="132.1" r="2.15"/>
<circle class="c61" cx="291.9" cy="133.9" r="2.15"/>
<circle class="c0" cx="323.0" cy="124.9" r="2.15"/>
<circle class="c0" cx="323.2" cy="126.7" r="2.15"/>
<circle class="c4" cx="333.1" cy="133.9" r="2.15"/>
<circle class="c6" cx="322.6" cy="135.7" r="2.15"/>
<circle class="c63" cx="296.2" cy="133.9" r="2.15"/>
<circle class="c11" cx="317.3" cy="132.1" r="2.15"/>
<circle class="c0" cx="341.8" cy="133.9" r="2.15"/>
<circle class="c0" cx="324.4" cy="133.9" r="2.15"/>
<circle class="c55" cx="303.5" cy="135.7" r="2.15"/>
<circle class="c0" cx="318.6" cy="139.3" r="2.15"/>
<circle class="c6" cx="324.7" cy="141.1" r="2.15"/>
<circle class="c2" cx="319.9" cy="128.5" r="2.15"/>
<circle class="c0" cx="317.2" cy="135.7" r="2.15"/>
<circle class="c15" cx="314.0" cy="128.5" r="2.15"/>
<circle class="c0" cx="326.3" cy="133.9" r="2.15"/>
<circle class="c0" cx="320.5" cy="132.1" r="2.15"/>
<circle class="c4" cx="325.2" cy="126.7" r="2.15"/>
<circle class="c2" cx="320.9" cy="130.3" r="2.15"/>
<circle class="c53" cx="301.1" cy="132.1" r="2.15"/>
<circle class="c1" cx="317.3" cy="139.3" r="2.15"/>
<circle class="c2" cx="320.0" cy="141.1" r="2.15"/>
<circle class="c5" cx="315.7" cy="135.7" r="2.15"/>
<circle class="c0" cx="324.2" cy="137.5" r="2.15"/>
<circle class="c63" cx="162.0" cy="133.9" r="2.15"/>
<circle class="c63" cx="197.1" cy="133.9" r="2.15"/>
<circle class="c63" cx="206.7" cy="133.9" r="2.15"/>
<circle class="c63" cx="247.1" cy="133.9" r="2.15"/>
<circle class="c63" cx="249.5" cy="133.9" r="2.15"/>
<circle class="c63" cx="255.8" cy="133.9" r="2.15"/>
<circle class="c63" cx="261.5" cy="133.9" r="2.15"/>
<circle class="c63" cx="263.7" cy="133.9" r="2.15"/>
<circle class="c63" cx="266.0" cy="133.9" r="2.15"/>
<circle class="c63" cx="280.7" cy="133.9" r="2.15"/>
</g>
<g>
<circle class="c30" cx="314.0" cy="161.6" r="2.15"/>
<circle class="c6" cx="321.4" cy="172.4" r="2.15"/>
<circle class="c0" cx="321.8" cy="158.0" r="2.15"/>
<circle class="c5" cx="317.5" cy="161.6" r="2.15"/>
<circle class="c3" cx="322.3" cy="172.4" r="2.15"/>
<circle class="c0" cx="318.3" cy="167.0" r="2.15"/>
<circle class="c9" cx="328.3" cy="167.0" r="2.15"/>
<circle class="c9" cx="318.1" cy="158.0" r="2.15"/>
<circle class="c1" cx="321.2" cy="165.2" r="2.15"/>
<circle class="c7" cx="328.2" cy="163.4" r="2.15"/>
<circle class="c0" cx="321.9" cy="167.0" r="2.15"/>
<circle class="c25" cx="312.5" cy="167.0" r="2.15"/>
<circle class="c0" cx="319.6" cy="163.4" r="2.15"/>
<circle class="c17" cx="326.2" cy="161.6" r="2.15"/>
<circle class="c61" cx="287.3" cy="165.2" r="2.15"/>
<circle class="c63" cx="283.8" cy="165.2" r="2.15"/>
<circle class="c0" cx="319.2" cy="163.4" r="2.15"/>
<circle class="c56" cx="291.2" cy="165.2" r="2.15"/>
<circle class="c3" cx="319.2" cy="174.2" r="2.15"/>
<circle class="c4" cx="321.2" cy="170.6" r="2.15"/>
<circle class="c29" cx="308.4" cy="163.4" r="2.15"/>
<circle class="c41" cx="307.9" cy="165.2" r="2.15"/>
<circle class="c0" cx="320.2" cy="174.2" r="2.15"/>
<circle class="c15" cx="323.0" cy="165.2" r="2.15"/>
<circle class="c24" cx="314.5" cy="167.0" r="2.15"/>
<circle class="c0" cx="320.0" cy="159.8" r="2.15"/>
<circle class="c0" cx="318.4" cy="168.8" r="2.15"/>
<circle class="c8" cx="319.0" cy="159.8" r="2.15"/>
<circle class="c1" cx="323.0" cy="161.6" r="2.15"/>
<circle class="c3" cx="316.9" cy="167.0" r="2.15"/>
<circle class="c55" cx="296.2" cy="165.2" r="2.15"/>
<circle class="c7" cx="317.1" cy="163.4" r="2.15"/>
<circle class="c8" cx="322.9" cy="163.4" r="2.15"/>
<circle class="c0" cx="321.6" cy="159.8" r="2.15"/>
<circle class="c53" cx="307.5" cy="165.2" r="2.15"/>
<circle class="c17" cx="317.0" cy="168.8" r="2.15"/>
<circle class="c0" cx="326.3" cy="163.4" r="2.15"/>
<circle class="c39" cx="305.2" cy="165.2" r="2.15"/>
<circle class="c33" cx="311.2" cy="167.0" r="2.15"/>
<circle class="c33" cx="310.3" cy="165.2" r="2.15"/>
<circle class="c0" cx="320.8" cy="167.0" r="2.15"/>
<circle class="c0" cx="324.5" cy="161.6" r="2.15"/>
<circle class="c0" cx="321.5" cy="170.6" r="2.15"/>
<circle class="c23" cx="313.4" cy="168.8" r="2.15"/>
<circle class="c0" cx="320.7" cy="156.2" r="2.15"/>
<circle class="c24" cx="315.7" cy="170.6" r="2.15"/>
<circle class="c22" cx="316.1" cy="165.2" r="2.15"/>
<circle class="c7" cx="317.1" cy="159.8" r="2.15"/>
<circle class="c6" cx="330.6" cy="165.2" r="2.15"/>
<circle class="c52" cx="295.5" cy="165.2" r="2.15"/>
<circle class="c40" cx="307.1" cy="163.4" r="2.15"/>
<circle class="c2" cx="318.6" cy="165.2" r="2.15"/>
<circle class="c0" cx="326.2" cy="168.8" r="2.15"/>
<circle class="c4" cx="326.5" cy="165.2" r="2.15"/>
<circle class="c0" cx="317.0" cy="172.4" r="2.15"/>
<circle class="c25" cx="313.5" cy="165.2" r="2.15"/>
<circle class="c0" cx="325.3" cy="168.8" r="2.15"/>
<circle class="c18" cx="314.0" cy="165.2" r="2.15"/>
<circle class="c4" cx="318.1" cy="170.6" r="2.15"/>
<circle class="c39" cx="309.5" cy="167.0" r="2.15"/>
<circle class="c21" cx="314.5" cy="163.4" r="2.15"/>
<circle class="c28" cx="312.0" cy="163.4" r="2.15"/>
<circle class="c1" cx="321.8" cy="168.8" r="2.15"/>
<circle class="c0" cx="317.7" cy="156.2" r="2.15"/>
<circle class="c57" cx="297.6" cy="165.2" r="2.15"/>
<circle class="c2" cx="317.7" cy="172.4" r="2.15"/>
<circle class="c10" cx="316.8" cy="158.0" r="2.15"/>
<circle class="c1" cx="325.3" cy="163.4" r="2.15"/>
<circle class="c3" cx="333.1" cy="165.2" r="2.15"/>
<circle class="c1" cx="333.8" cy="165.2" r="2.15"/>
<circle class="c52" cx="303.4" cy="165.2" r="2.15"/>
<circle class="c5" cx="317.5" cy="174.2" r="2.15"/>
<circle class="c53" cx="307.4" cy="167.0" r="2.15"/>
<circle class="c0" cx="326.5" cy="167.0" r="2.15"/>
<circle class="c0" cx="320.9" cy="161.6" r="2.15"/>
<circle class="c26" cx="313.1" cy="161.6" r="2.15"/>
<circle class="c63" cx="287.7" cy="165.2" r="2.15"/>
<circle class="c35" cx="310.4" cy="163.4" r="2.15"/>
<circle class="c56" cx="291.9" cy="165.2" r="2.15"/>
<circle class="c6" cx="325.3" cy="165.2" r="2.15"/>
<circle class="c47" cx="300.3" cy="165.2" r="2.15"/>
<circle class="c19" cx="314.1" cy="168.8" r="2.15"/>
<circle class="c0" cx="329.0" cy="165.2" r="2.15"/>
<circle class="c9" cx="316.4" cy="161.6" r="2.15"/>
<circle class="c2" cx="319.6" cy="158.0" r="2.15"/>
<circle class="c5" cx="317.3" cy="156.2" r="2.15"/>
<circle class="c2" cx="323.9" cy="167.0" r="2.15"/>
<circle class="c0" cx="321.3" cy="168.8" r="2.15"/>
<circle class="c63" cx="238.7" cy="165.2" r="2.15"/>
<circle class="c63" cx="251.8" cy="165.2" r="2.15"/>
<circle class="c63" cx="258.4" cy="165.2" r="2.15"/>
<circle class="c63" cx="276.9" cy="165.2" r="2.15"/>
</g>
<g>
<circle class="c27" cx="317.7" cy="189.2" r="2.15"/>
<circle class="c63" cx="299.4" cy="196.4" r="2.15"/>
<circle class="c29" cx="319.8" cy="198.2" r="2.15"/>
<circle class="c63" cx="304.9" cy="194.6" r="2.15"/>
<circle class="c0" cx="330.2" cy="196.4" r="2.15"/>
<circle class="c57" cx="301.9" cy="194.6" r="2.15"/>
<circle class="c31" cx="318.5" cy="194.6" r="2.15"/>
<circle class="c43" cx="312.0" cy="198.2" r="2.15"/>
<circle class="c0" cx="331.3" cy="196.4" r="2.15"/>
<circle class="c28" cx="319.0" cy="189.2" r="2.15"/>
<circle class="c22" cx="317.4" cy="205.4" r="2.15"/>
<circle class="c20" cx="321.1" cy="200.0" r="2.15"/>
<circle class="c46" cx="310.6" cy="200.0" r="2.15"/>
<circle class="c63" cx="302.1" cy="198.2" r="2.15"/>
<circle class="c48" cx="312.9" cy="194.6" r="2.15"/>
<circle class="c28" cx="318.7" cy="200.0" r="2.15"/>
<circle class="c63" cx="302.7" cy="196.4" r="2.15"/>
<circle class="c63" cx="292.3" cy="196.4" r="2.15"/>
<circle class="c47" cx="314.7" cy="192.8" r="2.15"/>
<circle class="c31" cx="314.6" cy="200.0" r="2.15"/>
<circle class="c30" cx="319.2" cy="203.6" r="2.15"/>
<circle class="c63" cx="296.5" cy="196.4" r="2.15"/>
<circle class="c30" cx="319.6" cy="196.4" r="2.15"/>
<circle class="c15" cx="321.6" cy="194.6" r="2.15"/>
<circle class="c48" cx="303.6" cy="196.4" r="2.15"/>
<circle class="c36" cx="318.5" cy="196.4" r="2.15"/>
<circle class="c33" cx="318.5" cy="191.0" r="2.15"/>
<circle class="c53" cx="312.6" cy="191.0" r="2.15"/>
<circle class="c22" cx="316.6" cy="196.4" r="2.15"/>
<circle class="c28" cx="316.7" cy="201.8" r="2.15"/>
<circle class="c0" cx="326.4" cy="194.6" r="2.15"/>
<circle class="c14" cx="320.5" cy="192.8" r="2.15"/>
<circle class="c63" cx="307.0" cy="196.4" r="2.15"/>
<circle class="c54" cx="310.8" cy="192.8" r="2.15"/>
<circle class="c34" cx="315.6" cy="187.4" r="2.15"/>
<circle class="c0" cx="338.7" cy="196.4" r="2.15"/>
<circle class="c39" cx="312.6" cy="201.8" r="2.15"/>
<circle class="c21" cx="320.7" cy="201.8" r="2.15"/>
<circle class="c48" cx="315.3" cy="200.0" r="2.15"/>
<circle class="c9" cx="323.5" cy="196.4" r="2.15"/>
<circle class="c57" cx="310.0" cy="198.2" r="2.15"/>
<circle class="c32" cx="318.2" cy="201.8" r="2.15"/>
<circle class="c44" cx="314.2" cy="196.4" r="2.15"/>
<circle class="c63" cx="304.6" cy="198.2" r="2.15"/>
<circle class="c31" cx="316.2" cy="194.6" r="2.15"/>
<circle class="c61" cx="307.9" cy="194.6" r="2.15"/>
<circle class="c52" cx="308.8" cy="196.4" r="2.15"/>
<circle class="c30" cx="316.5" cy="189.2" r="2.15"/>
<circle class="c26" cx="318.3" cy="198.2" r="2.15"/>
<circle class="c28" cx="318.6" cy="203.6" r="2.15"/>
<circle class="c53" cx="311.2" cy="200.0" r="2.15"/>
<circle class="c10" cx="323.7" cy="194.6" r="2.15"/>
<circle class="c50" cx="314.4" cy="194.6" r="2.15"/>
<circle class="c14" cx="321.1" cy="192.8" r="2.15"/>
<circle class="c48" cx="313.1" cy="191.0" r="2.15"/>
<circle class="c0" cx="336.7" cy="196.4" r="2.15"/>
<circle class="c63" cx="308.8" cy="198.2" r="2.15"/>
<circle class="c30" cx="314.7" cy="201.8" r="2.15"/>
<circle class="c60" cx="310.4" cy="196.4" r="2.15"/>
<circle class="c41" cx="315.5" cy="205.4" r="2.15"/>
<circle class="c14" cx="324.7" cy="198.2" r="2.15"/>
<circle class="c9" cx="341.2" cy="196.4" r="2.15"/>
<circle class="c40" cx="317.4" cy="187.4" r="2.15"/>
<circle class="c44" cx="317.0" cy="192.8" r="2.15"/>
<circle class="c63" cx="305.8" cy="198.2" r="2.15"/>
<circle class="c48" cx="313.8" cy="198.2" r="2.15"/>
<circle class="c18" cx="323.3" cy="192.8" r="2.15"/>
<circle class="c11" cx="322.2" cy="198.2" r="2.15"/>
<circle class="c32" cx="316.7" cy="198.2" r="2.15"/>
<circle class="c19" cx="320.6" cy="191.0" r="2.15"/>
<circle class="c0" cx="340.5" cy="196.4" r="2.15"/>
<circle class="c32" cx="314.8" cy="205.4" r="2.15"/>
<circle class="c24" cx="320.5" cy="200.0" r="2.15"/>
<circle class="c63" cx="306.0" cy="194.6" r="2.15"/>
<circle class="c52" cx="310.8" cy="194.6" r="2.15"/>
<circle class="c6" cx="322.7" cy="196.4" r="2.15"/>
<circle class="c12" cx="326.7" cy="196.4" r="2.15"/>
<circle class="c0" cx="343.4" cy="196.4" r="2.15"/>
<circle class="c3" cx="328.2" cy="196.4" r="2.15"/>
<circle class="c3" cx="326.1" cy="198.2" r="2.15"/>
<circle class="c40" cx="314.2" cy="189.2" r="2.15"/>
<circle class="c0" cx="334.3" cy="196.4" r="2.15"/>
<circle class="c34" cx="319.5" cy="194.6" r="2.15"/>
<circle class="c60" cx="311.3" cy="192.8" r="2.15"/>
<circle class="c63" cx="297.5" cy="196.4" r="2.15"/>
<circle class="c49" cx="293.6" cy="196.4" r="2.15"/>
<circle class="c38" cx="313.0" cy="196.4" r="2.15"/>
<circle class="c50" cx="315.0" cy="203.6" r="2.15"/>
<circle class="c36" cx="316.6" cy="191.0" r="2.15"/>
<circle class="c35" cx="317.1" cy="192.8" r="2.15"/>
<circle class="c43" cx="315.4" cy="203.6" r="2.15"/>
<circle class="c0" cx="374.3" cy="196.4" r="2.15"/>
</g>
<g>
<circle class="c7" cx="314.4" cy="230.0" r="2.15"/>
<circle class="c0" cx="312.1" cy="230.0" r="2.15"/>
<circle class="c29" cx="319.1" cy="225.2" r="2.15"/>
<circle class="c14" cx="317.4" cy="232.4" r="2.15"/>
<circle class="c7" cx="314.9" cy="234.8" r="2.15"/>
<circle class="c63" cx="328.6" cy="227.6" r="2.15"/>
<circle class="c0" cx="316.1" cy="234.8" r="2.15"/>
<circle class="c4" cx="315.8" cy="227.6" r="2.15"/>
<circle class="c0" cx="310.5" cy="225.2" r="2.15"/>
<circle class="c0" cx="311.5" cy="225.2" r="2.15"/>
<circle class="c57" cx="321.9" cy="225.2" r="2.15"/>
<circle class="c10" cx="308.9" cy="230.0" r="2.15"/>
<circle class="c53" cx="321.2" cy="225.2" r="2.15"/>
<circle class="c56" cx="321.4" cy="227.6" r="2.15"/>
<circle class="c0" cx="313.1" cy="227.6" r="2.15"/>
<circle class="c63" cx="326.4" cy="227.6" r="2.15"/>
<circle class="c63" cx="323.9" cy="227.6" r="2.15"/>
<circle class="c0" cx="309.0" cy="227.6" r="2.15"/>
<circle class="c0" cx="310.7" cy="227.6" r="2.15"/>
<circle class="c11" cx="316.8" cy="230.0" r="2.15"/>
<circle class="c63" cx="334.1" cy="227.6" r="2.15"/>
<circle class="c60" cx="331.4" cy="227.6" r="2.15"/>
<circle class="c6" cx="315.0" cy="237.2" r="2.15"/>
<circle class="c35" cx="318.0" cy="222.8" r="2.15"/>
<circle class="c56" cx="322.3" cy="230.0" r="2.15"/>
<circle class="c17" cx="317.6" cy="218.0" r="2.15"/>
<circle class="c48" cx="321.8" cy="227.6" r="2.15"/>
<circle class="c63" cx="335.5" cy="227.6" r="2.15"/>
<circle class="c63" cx="326.8" cy="227.6" r="2.15"/>
<circle class="c16" cx="316.2" cy="220.4" r="2.15"/>
<circle class="c63" cx="329.5" cy="227.6" r="2.15"/>
<circle class="c2" cx="313.4" cy="230.0" r="2.15"/>
<circle class="c8" cx="309.6" cy="225.2" r="2.15"/>
<circle class="c9" cx="310.6" cy="230.0" r="2.15"/>
<circle class="c33" cx="318.7" cy="230.0" r="2.15"/>
<circle class="c6" cx="315.2" cy="220.4" r="2.15"/>
<circle class="c43" cx="319.3" cy="230.0" r="2.15"/>
<circle class="c34" cx="318.5" cy="232.4" r="2.15"/>
<circle class="c39" cx="320.0" cy="227.6" r="2.15"/>
<circle class="c63" cx="332.4" cy="227.6" r="2.15"/>
<circle class="c7" cx="315.5" cy="237.2" r="2.15"/>
<circle class="c63" cx="324.1" cy="227.6" r="2.15"/>
<circle class="c5" cx="308.4" cy="225.2" r="2.15"/>
<circle class="c0" cx="312.9" cy="225.2" r="2.15"/>
<circle class="c0" cx="314.9" cy="232.4" r="2.15"/>
<circle class="c21" cx="316.6" cy="227.6" r="2.15"/>
<circle class="c9" cx="315.6" cy="230.0" r="2.15"/>
<circle class="c6" cx="315.7" cy="232.4" r="2.15"/>
<circle class="c9" cx="315.8" cy="218.0" r="2.15"/>
<circle class="c63" cx="332.8" cy="227.6" r="2.15"/>
<circle class="c0" cx="308.5" cy="227.6" r="2.15"/>
<circle class="c34" cx="318.9" cy="227.6" r="2.15"/>
<circle class="c11" cx="306.7" cy="227.6" r="2.15"/>
<circle class="c9" cx="314.9" cy="222.8" r="2.15"/>
<circle class="c40" cx="318.9" cy="225.2" r="2.15"/>
<circle class="c20" cx="317.1" cy="222.8" r="2.15"/>
<circle class="c20" cx="317.0" cy="237.2" r="2.15"/>
<circle class="c6" cx="315.3" cy="225.2" r="2.15"/>
<circle class="c0" cx="314.2" cy="225.2" r="2.15"/>
<circle class="c53" cx="321.5" cy="230.0" r="2.15"/>
<circle class="c0" cx="315.1" cy="218.0" r="2.15"/>
<circle class="c31" cx="317.8" cy="220.4" r="2.15"/>
<circle class="c0" cx="311.7" cy="227.6" r="2.15"/>
<circle class="c11" cx="314.7" cy="227.6" r="2.15"/>
<circle class="c9" cx="317.7" cy="220.4" r="2.15"/>
<circle class="c5" cx="309.3" cy="230.0" r="2.15"/>
<circle class="c18" cx="316.8" cy="234.8" r="2.15"/>
<circle class="c18" cx="316.7" cy="225.2" r="2.15"/>
<circle class="c11" cx="316.2" cy="222.8" r="2.15"/>
<circle class="c63" cx="340.5" cy="227.6" r="2.15"/>
<circle class="c63" cx="346.8" cy="227.6" r="2.15"/>
</g>
<g>
<circle class="c0" cx="317.2" cy="268.5" r="2.15"/>
<circle class="c0" cx="313.3" cy="256.5" r="2.15"/>
<circle class="c3" cx="317.9" cy="263.7" r="2.15"/>
<circle class="c0" cx="314.3" cy="261.3" r="2.15"/>
<circle class="c0" cx="317.7" cy="249.3" r="2.15"/>
<circle class="c0" cx="318.4" cy="258.9" r="2.15"/>
<circle class="c8" cx="316.7" cy="251.7" r="2.15"/>
<circle class="c25" cx="320.8" cy="258.9" r="2.15"/>
<circle class="c16" cx="320.3" cy="256.5" r="2.15"/>
<circle class="c5" cx="314.6" cy="256.5" r="2.15"/>
<circle class="c0" cx="315.6" cy="249.3" r="2.15"/>
<circle class="c4" cx="318.7" cy="261.3" r="2.15"/>
<circle class="c3" cx="316.8" cy="254.1" r="2.15"/>
<circle class="c14" cx="315.4" cy="254.1" r="2.15"/>
<circle class="c2" cx="316.3" cy="249.3" r="2.15"/>
<circle class="c4" cx="316.0" cy="268.5" r="2.15"/>
<circle class="c6" cx="315.6" cy="268.5" r="2.15"/>
<circle class="c0" cx="313.0" cy="261.3" r="2.15"/>
<circle class="c5" cx="318.1" cy="254.1" r="2.15"/>
<circle class="c5" cx="316.6" cy="256.5" r="2.15"/>
<circle class="c3" cx="316.6" cy="266.1" r="2.15"/>
<circle class="c7" cx="316.1" cy="263.7" r="2.15"/>
<circle class="c18" cx="320.3" cy="261.3" r="2.15"/>
<circle class="c0" cx="315.6" cy="263.7" r="2.15"/>
<circle class="c3" cx="317.1" cy="261.3" r="2.15"/>
<circle class="c0" cx="316.4" cy="258.9" r="2.15"/>
<circle class="c7" cx="319.7" cy="258.9" r="2.15"/>
<circle class="c0" cx="314.7" cy="261.3" r="2.15"/>
<circle class="c0" cx="315.3" cy="266.1" r="2.15"/>
<circle class="c5" cx="318.1" cy="256.5" r="2.15"/>
<circle class="c3" cx="318.3" cy="263.7" r="2.15"/>
<circle class="c4" cx="317.2" cy="251.7" r="2.15"/>
<circle class="c3" cx="314.1" cy="258.9" r="2.15"/>
<circle class="c4" cx="312.2" cy="256.5" r="2.15"/>
<circle class="c2" cx="317.8" cy="266.1" r="2.15"/>
<circle class="c3" cx="315.3" cy="258.9" r="2.15"/>
<circle class="c0" cx="315.5" cy="251.7" r="2.15"/>
<circle class="c6" cx="311.7" cy="258.9" r="2.15"/>
<circle class="c6" cx="316.3" cy="261.3" r="2.15"/>
<circle class="c0" cx="317.9" cy="258.9" r="2.15"/>
<circle class="c11" cx="318.5" cy="256.5" r="2.15"/>
<circle class="c4" cx="312.6" cy="258.9" r="2.15"/>
<circle class="c63" cx="298.9" cy="258.9" r="2.15"/>
<circle class="c63" cx="301.2" cy="258.9" r="2.15"/>
<circle class="c63" cx="303.4" cy="258.9" r="2.15"/>
<circle class="c63" cx="305.2" cy="258.9" r="2.15"/>
<circle class="c63" cx="307.7" cy="258.9" r="2.15"/>
<circle class="c60" cx="309.6" cy="258.9" r="2.15"/>
<circle class="c50" cx="316.0" cy="258.9" r="2.15"/>
<circle class="c57" cx="318.0" cy="259.9" r="2.15"/>
<circle class="c44" cx="315.0" cy="257.4" r="2.15"/>
<circle class="c54" cx="317.5" cy="255.9" r="2.15"/>
<circle class="c57" cx="319.5" cy="259.4" r="2.15"/>
<circle class="c57" cx="321.5" cy="258.9" r="2.15"/>
<circle class="c60" cx="323.6" cy="258.9" r="2.15"/>
<circle class="c63" cx="325.6" cy="258.9" r="2.15"/>
<circle class="c57" cx="327.8" cy="258.9" r="2.15"/>
</g>
<g>
<circle class="c6" cx="318.0" cy="285.3" r="2.15"/>
<circle class="c0" cx="317.0" cy="292.5" r="2.15"/>
<circle class="c3" cx="315.2" cy="299.7" r="2.15"/>
<circle class="c7" cx="315.0" cy="294.9" r="2.15"/>
<circle class="c0" cx="315.5" cy="280.5" r="2.15"/>
<circle class="c3" cx="311.2" cy="290.1" r="2.15"/>
<circle class="c0" cx="317.2" cy="299.7" r="2.15"/>
<circle class="c7" cx="316.4" cy="287.7" r="2.15"/>
<circle class="c0" cx="318.0" cy="280.5" r="2.15"/>
<circle class="c3" cx="318.5" cy="292.5" r="2.15"/>
<circle class="c0" cx="315.4" cy="297.3" r="2.15"/>
<circle class="c4" cx="317.3" cy="290.1" r="2.15"/>
<circle class="c0" cx="316.1" cy="280.5" r="2.15"/>
<circle class="c0" cx="318.2" cy="297.3" r="2.15"/>
<circle class="c0" cx="315.7" cy="292.5" r="2.15"/>
<circle class="c5" cx="315.3" cy="292.5" r="2.15"/>
<circle class="c0" cx="316.1" cy="299.7" r="2.15"/>
<circle class="c8" cx="316.4" cy="290.1" r="2.15"/>
<circle class="c0" cx="318.2" cy="287.7" r="2.15"/>
<circle class="c0" cx="315.1" cy="287.7" r="2.15"/>
<circle class="c2" cx="313.8" cy="292.5" r="2.15"/>
<circle class="c0" cx="312.8" cy="287.7" r="2.15"/>
<circle class="c0" cx="315.9" cy="285.3" r="2.15"/>
<circle class="c3" cx="313.8" cy="290.1" r="2.15"/>
<circle class="c5" cx="317.4" cy="294.9" r="2.15"/>
<circle class="c0" cx="314.3" cy="290.1" r="2.15"/>
<circle class="c9" cx="318.2" cy="294.9" r="2.15"/>
<circle class="c1" cx="316.6" cy="297.3" r="2.15"/>
<circle class="c0" cx="315.7" cy="282.9" r="2.15"/>
<circle class="c1" cx="317.2" cy="287.7" r="2.15"/>
<circle class="c7" cx="319.6" cy="292.5" r="2.15"/>
<circle class="c6" cx="318.4" cy="290.1" r="2.15"/>
<circle class="c6" cx="315.1" cy="282.9" r="2.15"/>
<circle class="c3" cx="313.1" cy="287.7" r="2.15"/>
<circle class="c4" cx="312.7" cy="292.5" r="2.15"/>
<circle class="c2" cx="319.4" cy="287.7" r="2.15"/>
<circle class="c4" cx="317.1" cy="285.3" r="2.15"/>
<circle class="c0" cx="315.1" cy="285.3" r="2.15"/>
<circle class="c0" cx="316.6" cy="294.9" r="2.15"/>
<circle class="c9" cx="312.1" cy="290.1" r="2.15"/>
<circle class="c13" cx="320.7" cy="290.1" r="2.15"/>
<circle class="c0" cx="318.2" cy="282.9" r="2.15"/>
<circle class="c6" cx="319.4" cy="290.1" r="2.15"/>
<circle class="c2" cx="317.8" cy="280.5" r="2.15"/>
<circle class="c0" cx="317.0" cy="297.3" r="2.15"/>
<circle class="c10" cx="317.0" cy="282.9" r="2.15"/>
<circle class="c63" cx="300.2" cy="290.1" r="2.15"/>
<circle class="c63" cx="302.0" cy="290.9" r="2.15"/>
<circle class="c60" cx="303.5" cy="289.6" r="2.15"/>
<circle class="c57" cx="305.5" cy="290.6" r="2.15"/>
<circle class="c54" cx="307.0" cy="289.5" r="2.15"/>
<circle class="c54" cx="308.8" cy="290.5" r="2.15"/>
<circle class="c50" cx="310.6" cy="290.1" r="2.15"/>
<circle class="c35" cx="316.5" cy="279.1" r="2.15"/>
<circle class="c38" cx="316.5" cy="301.1" r="2.15"/>
<circle class="c19" cx="316.0" cy="281.6" r="2.15"/>
<circle class="c22" cx="317.0" cy="298.1" r="2.15"/>
<circle class="c35" cx="322.8" cy="290.1" r="2.15"/>
</g>
<g>
<circle class="c4" cx="315.4" cy="314.1" r="2.15"/>
<circle class="c2" cx="313.8" cy="321.3" r="2.15"/>
<circle class="c1" cx="314.6" cy="326.1" r="2.15"/>
<circle class="c15" cx="318.5" cy="321.3" r="2.15"/>
<circle class="c1" cx="317.4" cy="321.3" r="2.15"/>
<circle class="c58" cx="328.7" cy="321.3" r="2.15"/>
<circle class="c0" cx="315.6" cy="330.9" r="2.15"/>
<circle class="c1" cx="316.7" cy="318.9" r="2.15"/>
<circle class="c3" cx="316.6" cy="314.1" r="2.15"/>
<circle class="c0" cx="316.9" cy="311.7" r="2.15"/>
<circle class="c2" cx="317.5" cy="311.7" r="2.15"/>
<circle class="c63" cx="326.2" cy="321.3" r="2.15"/>
<circle class="c63" cx="325.8" cy="321.3" r="2.15"/>
<circle class="c0" cx="316.3" cy="328.5" r="2.15"/>
<circle class="c0" cx="317.7" cy="314.1" r="2.15"/>
<circle class="c3" cx="314.5" cy="318.9" r="2.15"/>
<circle class="c0" cx="316.1" cy="326.1" r="2.15"/>
<circle class="c5" cx="318.2" cy="318.9" r="2.15"/>
<circle class="c63" cx="324.2" cy="321.3" r="2.15"/>
<circle class="c3" cx="315.2" cy="326.1" r="2.15"/>
<circle class="c58" cx="328.3" cy="321.3" r="2.15"/>
<circle class="c0" cx="312.8" cy="318.9" r="2.15"/>
<circle class="c0" cx="317.3" cy="326.1" r="2.15"/>
<circle class="c0" cx="317.1" cy="316.5" r="2.15"/>
<circle class="c3" cx="314.3" cy="323.7" r="2.15"/>
<circle class="c0" cx="315.7" cy="311.7" r="2.15"/>
<circle class="c0" cx="311.5" cy="321.3" r="2.15"/>
<circle class="c0" cx="312.9" cy="323.7" r="2.15"/>
<circle class="c1" cx="318.1" cy="323.7" r="2.15"/>
<circle class="c2" cx="313.4" cy="321.3" r="2.15"/>
<circle class="c0" cx="317.9" cy="316.5" r="2.15"/>
<circle class="c63" cx="323.3" cy="321.3" r="2.15"/>
<circle class="c0" cx="314.9" cy="323.7" r="2.15"/>
<circle class="c1" cx="314.8" cy="321.3" r="2.15"/>
<circle class="c5" cx="315.4" cy="316.5" r="2.15"/>
<circle class="c0" cx="316.6" cy="321.3" r="2.15"/>
<circle class="c0" cx="316.3" cy="330.9" r="2.15"/>
<circle class="c0" cx="316.4" cy="323.7" r="2.15"/>
<circle class="c0" cx="317.3" cy="328.5" r="2.15"/>
<circle class="c0" cx="315.6" cy="328.5" r="2.15"/>
<circle class="c61" cx="322.2" cy="321.3" r="2.15"/>
<circle class="c4" cx="315.4" cy="318.9" r="2.15"/>
<circle class="c56" cx="320.6" cy="321.3" r="2.15"/>
<circle class="c50" cx="318.0" cy="321.3" r="2.15"/>
<circle class="c44" cx="317.0" cy="322.8" r="2.15"/>
</g>
<g>
<circle class="c1" cx="316.2" cy="357.4" r="2.15"/>
<circle class="c11" cx="317.1" cy="357.4" r="2.15"/>
<circle class="c3" cx="315.2" cy="359.8" r="2.15"/>
<circle class="c6" cx="314.7" cy="347.8" r="2.15"/>
<circle class="c17" cx="317.7" cy="345.4" r="2.15"/>
<circle class="c21" cx="315.9" cy="354.9" r="2.15"/>
<circle class="c12" cx="316.4" cy="352.6" r="2.15"/>
<circle class="c4" cx="315.0" cy="352.6" r="2.15"/>
<circle class="c17" cx="318.2" cy="350.2" r="2.15"/>
<circle class="c10" cx="318.1" cy="347.8" r="2.15"/>
<circle class="c0" cx="317.2" cy="354.9" r="2.15"/>
<circle class="c10" cx="316.8" cy="345.4" r="2.15"/>
<circle class="c16" cx="317.7" cy="342.9" r="2.15"/>
<circle class="c19" cx="314.8" cy="354.9" r="2.15"/>
<circle class="c19" cx="318.2" cy="357.4" r="2.15"/>
<circle class="c17" cx="317.7" cy="359.8" r="2.15"/>
<circle class="c12" cx="316.7" cy="347.8" r="2.15"/>
<circle class="c19" cx="315.6" cy="350.2" r="2.15"/>
<circle class="c30" cx="318.7" cy="352.6" r="2.15"/>
<circle class="c8" cx="315.7" cy="359.8" r="2.15"/>
<circle class="c0" cx="315.5" cy="357.4" r="2.15"/>
<circle class="c21" cx="315.9" cy="342.9" r="2.15"/>
<circle class="c13" cx="318.6" cy="354.9" r="2.15"/>
<circle class="c22" cx="316.7" cy="362.2" r="2.15"/>
<circle class="c17" cx="317.2" cy="352.6" r="2.15"/>
<circle class="c14" cx="317.7" cy="350.2" r="2.15"/>
<circle class="c6" cx="315.6" cy="345.4" r="2.15"/>
<circle class="c6" cx="317.2" cy="362.2" r="2.15"/>
<circle class="c31" cx="316.0" cy="350.2" r="2.15"/>
<circle class="c29" cx="315.3" cy="342.9" r="2.15"/>
<circle class="c9" cx="318.4" cy="347.8" r="2.15"/>
<circle class="c63" cx="310.4" cy="352.6" r="2.15"/>
<circle class="c57" cx="312.5" cy="353.1" r="2.15"/>
<circle class="c63" cx="322.0" cy="352.6" r="2.15"/>
<circle class="c63" cx="325.6" cy="352.6" r="2.15"/>
<circle class="c63" cx="329.0" cy="352.6" r="2.15"/>
<circle class="c63" cx="332.0" cy="352.6" r="2.15"/>
<circle class="c63" cx="334.6" cy="352.6" r="2.15"/>
<circle class="c63" cx="344.2" cy="352.6" r="2.15"/>
<circle class="c57" cx="319.5" cy="352.6" r="2.15"/>
</g>
<g>
<circle class="c3" cx="318.5" cy="381.4" r="2.15"/>
<circle class="c4" cx="315.1" cy="379.0" r="2.15"/>
<circle class="c1" cx="315.1" cy="374.2" r="2.15"/>
<circle class="c0" cx="316.9" cy="374.2" r="2.15"/>
<circle class="c0" cx="318.5" cy="388.6" r="2.15"/>
<circle class="c0" cx="318.1" cy="388.6" r="2.15"/>
<circle class="c0" cx="316.8" cy="381.4" r="2.15"/>
<circle class="c0" cx="315.7" cy="388.6" r="2.15"/>
<circle class="c0" cx="315.2" cy="391.0" r="2.15"/>
<circle class="c1" cx="314.7" cy="383.8" r="2.15"/>
<circle class="c0" cx="319.1" cy="383.8" r="2.15"/>
<circle class="c1" cx="316.3" cy="376.6" r="2.15"/>
<circle class="c2" cx="317.1" cy="386.2" r="2.15"/>
<circle class="c0" cx="315.5" cy="393.4" r="2.15"/>
<circle class="c0" cx="315.9" cy="383.8" r="2.15"/>
<circle class="c0" cx="317.8" cy="391.0" r="2.15"/>
<circle class="c0" cx="315.2" cy="376.6" r="2.15"/>
<circle class="c0" cx="314.6" cy="381.4" r="2.15"/>
<circle class="c5" cx="316.8" cy="386.2" r="2.15"/>
<circle class="c0" cx="319.4" cy="383.8" r="2.15"/>
<circle class="c0" cx="316.3" cy="391.0" r="2.15"/>
<circle class="c0" cx="316.6" cy="374.2" r="2.15"/>
<circle class="c0" cx="317.0" cy="393.4" r="2.15"/>
<circle class="c2" cx="314.8" cy="386.2" r="2.15"/>
<circle class="c0" cx="315.9" cy="379.0" r="2.15"/>
<circle class="c0" cx="315.0" cy="388.6" r="2.15"/>
<circle class="c0" cx="317.1" cy="383.8" r="2.15"/>
<circle class="c0" cx="317.6" cy="376.6" r="2.15"/>
<circle class="c2" cx="316.9" cy="381.4" r="2.15"/>
<circle class="c0" cx="316.4" cy="393.4" r="2.15"/>
<circle class="c0" cx="318.5" cy="379.0" r="2.15"/>
<circle class="c1" cx="318.9" cy="386.2" r="2.15"/>
<circle class="c4" cx="317.6" cy="379.0" r="2.15"/>
<circle class="c63" cx="302.7" cy="383.8" r="2.15"/>
<circle class="c63" cx="306.0" cy="383.8" r="2.15"/>
<circle class="c63" cx="312.5" cy="383.8" r="2.15"/>
<circle class="c57" cx="315.5" cy="386.3" r="2.15"/>
<circle class="c63" cx="320.2" cy="383.8" r="2.15"/>
<circle class="c63" cx="326.7" cy="383.8" r="2.15"/>
<circle class="c63" cx="332.2" cy="383.8" r="2.15"/>
<circle class="c63" cx="335.0" cy="383.8" r="2.15"/>
<circle class="c63" cx="338.7" cy="383.8" r="2.15"/>
</g>
<g>
<circle class="c0" cx="316.2" cy="421.0" r="2.15"/>
<circle class="c0" cx="317.0" cy="407.5" r="2.15"/>
<circle class="c0" cx="316.5" cy="404.5" r="2.15"/>
<circle class="c1" cx="316.6" cy="412.0" r="2.15"/>
<circle class="c0" cx="315.9" cy="409.0" r="2.15"/>
<circle class="c0" cx="316.2" cy="424.0" r="2.15"/>
<circle class="c2" cx="316.8" cy="415.0" r="2.15"/>
<circle class="c0" cx="316.7" cy="424.0" r="2.15"/>
<circle class="c0" cx="316.1" cy="412.0" r="2.15"/>
<circle class="c2" cx="316.6" cy="406.0" r="2.15"/>
<circle class="c0" cx="316.3" cy="419.5" r="2.15"/>
<circle class="c0" cx="316.7" cy="419.5" r="2.15"/>
<circle class="c0" cx="316.6" cy="418.0" r="2.15"/>
<circle class="c0" cx="316.9" cy="425.5" r="2.15"/>
<circle class="c0" cx="316.4" cy="416.5" r="2.15"/>
<circle class="c0" cx="316.0" cy="425.5" r="2.15"/>
<circle class="c1" cx="316.3" cy="410.5" r="2.15"/>
<circle class="c1" cx="315.9" cy="415.0" r="2.15"/>
<circle class="c0" cx="316.4" cy="416.5" r="2.15"/>
<circle class="c0" cx="315.9" cy="413.5" r="2.15"/>
<circle class="c1" cx="316.7" cy="410.5" r="2.15"/>
<circle class="c0" cx="316.3" cy="404.5" r="2.15"/>
<circle class="c0" cx="315.9" cy="407.5" r="2.15"/>
<circle class="c0" cx="316.3" cy="406.0" r="2.15"/>
<circle class="c2" cx="317.0" cy="409.0" r="2.15"/>
<circle class="c1" cx="316.7" cy="422.5" r="2.15"/>
<circle class="c2" cx="316.6" cy="413.5" r="2.15"/>
<circle class="c0" cx="316.0" cy="422.5" r="2.15"/>
<circle class="c0" cx="316.0" cy="418.0" r="2.15"/>
<circle class="c1" cx="316.5" cy="421.0" r="2.15"/>
<circle class="c60" cx="316.4" cy="410.8" r="2.15"/>
<circle class="c54" cx="316.4" cy="421.0" r="2.15"/>
<circle class="c63" cx="320.6" cy="415.0" r="2.15"/>
<circle class="c63" cx="324.5" cy="415.0" r="2.15"/>
<circle class="c63" cx="330.7" cy="415.0" r="2.15"/>
<circle class="c63" cx="333.3" cy="415.0" r="2.15"/>
</g>
<g>
<circle class="c3" cx="316.8" cy="452.2" r="2.15"/>
<circle class="c0" cx="315.9" cy="441.7" r="2.15"/>
<circle class="c4" cx="316.7" cy="441.7" r="2.15"/>
<circle class="c1" cx="316.7" cy="438.7" r="2.15"/>
<circle class="c0" cx="316.3" cy="440.2" r="2.15"/>
<circle class="c0" cx="316.5" cy="455.2" r="2.15"/>
<circle class="c2" cx="316.0" cy="456.7" r="2.15"/>
<circle class="c1" cx="316.9" cy="443.2" r="2.15"/>
<circle class="c0" cx="316.3" cy="452.2" r="2.15"/>
<circle class="c0" cx="316.6" cy="435.7" r="2.15"/>
<circle class="c0" cx="316.5" cy="453.7" r="2.15"/>
<circle class="c0" cx="316.3" cy="443.2" r="2.15"/>
<circle class="c1" cx="316.6" cy="450.7" r="2.15"/>
<circle class="c2" cx="316.3" cy="455.2" r="2.15"/>
<circle class="c0" cx="316.2" cy="449.2" r="2.15"/>
<circle class="c0" cx="315.9" cy="437.2" r="2.15"/>
<circle class="c1" cx="316.8" cy="437.2" r="2.15"/>
<circle class="c0" cx="316.0" cy="444.7" r="2.15"/>
<circle class="c1" cx="316.2" cy="453.7" r="2.15"/>
<circle class="c0" cx="316.2" cy="446.2" r="2.15"/>
<circle class="c2" cx="317.0" cy="456.7" r="2.15"/>
<circle class="c0" cx="315.9" cy="435.7" r="2.15"/>
<circle class="c1" cx="316.1" cy="447.7" r="2.15"/>
<circle class="c2" cx="316.7" cy="449.2" r="2.15"/>
<circle class="c0" cx="316.1" cy="450.7" r="2.15"/>
<circle class="c0" cx="316.9" cy="440.2" r="2.15"/>
<circle class="c0" cx="317.0" cy="447.7" r="2.15"/>
<circle class="c0" cx="315.9" cy="438.7" r="2.15"/>
<circle class="c0" cx="316.6" cy="446.2" r="2.15"/>
<circle class="c0" cx="317.0" cy="444.7" r="2.15"/>
<circle class="c63" cx="313.2" cy="445.9" r="2.15"/>
<circle class="c50" cx="316.6" cy="448.9" r="2.15"/>
</g>
<g stroke="#333" stroke-width="0.85" fill="none">
<line x1="70.0" x2="474.0" y1="477.9" y2="477.9"/>
<line x1="116.0" x2="116.0" y1="477.9" y2="481.5"/>
<line x1="166.3" x2="166.3" y1="477.9" y2="481.5"/>
<line x1="216.6" x2="216.6" y1="477.9" y2="481.5"/>
<line x1="266.8" x2="266.8" y1="477.9" y2="481.5"/>
<line x1="317.1" x2="317.1" y1="477.9" y2="481.5"/>
<line x1="367.4" x2="367.4" y1="477.9" y2="481.5"/>
<line x1="417.7" x2="417.7" y1="477.9" y2="481.5"/>
<line x1="467.9" x2="467.9" y1="477.9" y2="481.5"/>
</g>
<g font-size="11.4" text-anchor="middle">
<text transform="translate(113.4,494.2) scale(0.92,1)">−2.0</text>
<text transform="translate(163.7,494.2) scale(0.92,1)">−1.5</text>
<text transform="translate(214.0,494.2) scale(0.92,1)">−1.0</text>
<text transform="translate(264.2,494.2) scale(0.92,1)">−0.5</text>
<text transform="translate(316.3,494.2) scale(0.92,1)">0.0</text>
<text transform="translate(366.6,494.2) scale(0.92,1)">0.5</text>
<text transform="translate(416.9,494.2) scale(0.92,1)">1.0</text>
<text transform="translate(467.1,494.2) scale(0.92,1)">1.5</text>
</g>
<text x="144.4" y="510.3" font-size="13.1" textLength="254.6" lengthAdjust="spacingAndGlyphs">SHAP value (impact on model output)</text>
<g font-size="13.3" text-anchor="end" transform="translate(45.6,0) scale(0.966,1)">
<text x="0" y="47.0">q_acc</text>
<text x="0" y="78.2">sq_acc</text>
<text x="0" y="109.4">sk_acc</text>
<text x="0" y="140.6">q_mt</text>
<text x="0" y="171.9">sk_n</text>
<text x="0" y="203.1">k_acc</text>
<text x="0" y="234.3">q_n</text>
<text x="0" y="265.6">sq_n</text>
<text x="0" y="296.8">k_n</text>
<text x="0" y="328.0">sq_mt</text>
<text x="0" y="359.2">k_mt</text>
<text x="0" y="390.5">sk_lt</text>
<text x="0" y="421.7">sq_lt</text>
<text x="0" y="452.9">sk_mt</text>
</g>
<rect x="498.7" y="8.9" width="5.2" height="468.3" fill="url(#cb)"/>
<text x="508.4" y="14.5" font-size="10.8">High</text>
<text x="508.4" y="482.0" font-size="10.8">Low</text>
<text transform="translate(543.2,245.1) rotate(-90)" font-size="12.55" text-anchor="middle">Feature value</text>
</svg></body></html>
